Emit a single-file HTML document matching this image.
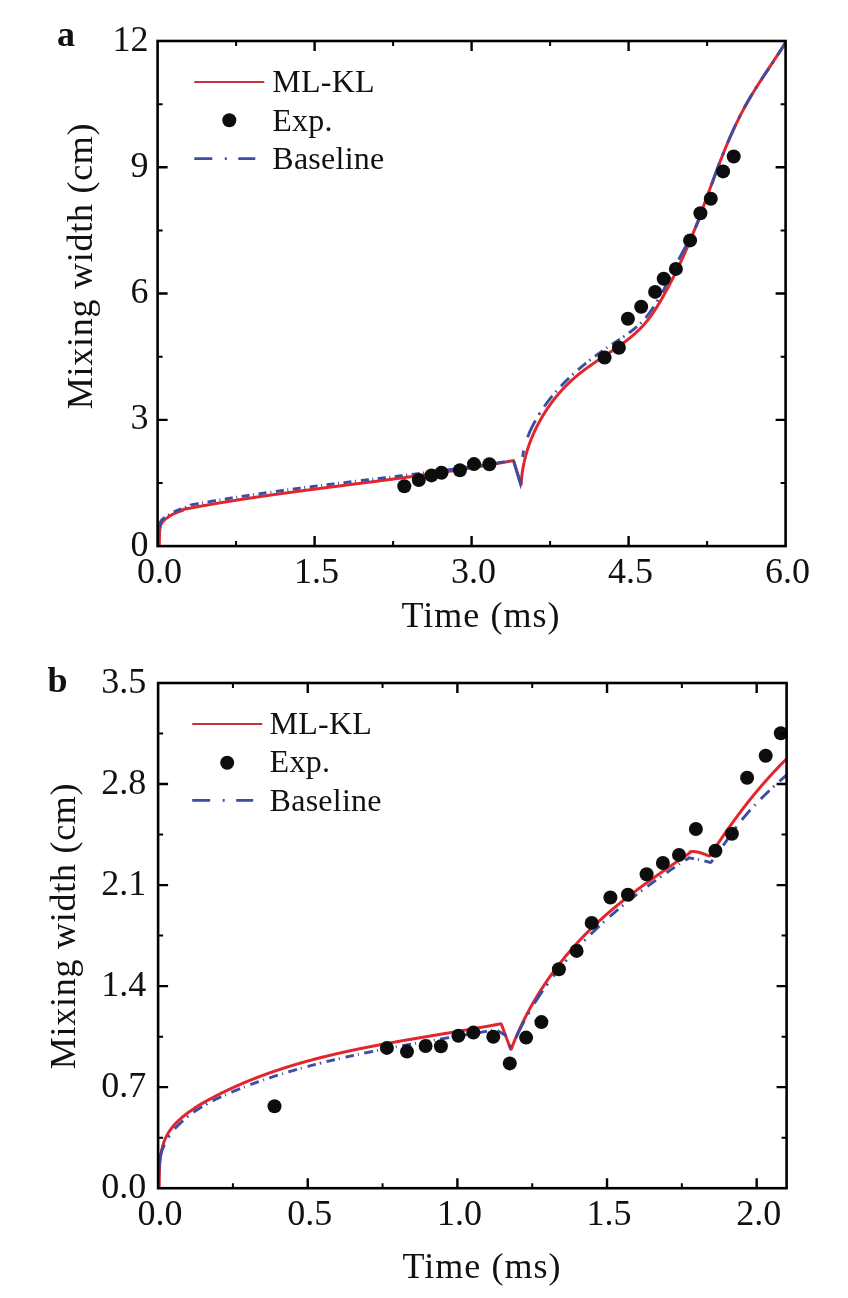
<!DOCTYPE html><html><head><meta charset="utf-8"><style>html,body{margin:0;padding:0;background:#fff;overflow:hidden}svg{display:block;will-change:transform}</style></head><body><svg width="848" height="1298" viewBox="0 0 848 1298"><rect width="848" height="1298" fill="#fff"/><clipPath id="ca"><rect x="157.60" y="41.00" width="628.00" height="505.10"/></clipPath><g clip-path="url(#ca)"><path d="M159.30,546.00 L159.30,545.60 L159.30,545.19 L159.30,544.79 L159.31,544.39 L159.31,543.98 L159.31,543.58 L159.32,543.17 L159.32,542.77 L159.33,542.37 L159.33,541.96 L159.34,541.56 L159.34,541.16 L159.35,540.75 L159.36,540.35 L159.36,539.95 L159.37,539.54 L159.38,539.14 L159.39,538.73 L159.39,538.33 L159.40,537.93 L159.41,537.52 L159.42,537.12 L159.43,536.72 L159.44,536.31 L159.45,535.91 L159.46,535.50 L159.47,535.10 L159.49,534.69 L159.50,534.29 L159.52,533.89 L159.53,533.48 L159.55,533.08 L159.57,532.67 L159.59,532.27 L159.61,531.87 L159.64,531.47 L159.66,531.07 L159.69,530.67 L159.72,530.27 L159.76,529.87 L159.81,529.47 L159.87,529.06 L159.93,528.66 L160.01,528.26 L160.09,527.86 L160.18,527.47 L160.27,527.07 L160.37,526.68 L160.47,526.29 L160.57,525.90 L160.68,525.52 L160.81,525.14 L160.95,524.75 L161.10,524.37 L161.27,524.00 L161.45,523.63 L161.63,523.27 L161.83,522.93 L162.03,522.59 L162.26,522.27 L162.50,521.95 L162.76,521.64 L163.04,521.34 L163.32,521.04 L163.61,520.75 L163.91,520.47 L164.20,520.19 L164.50,519.91 L164.79,519.64 L165.10,519.38 L165.41,519.12 L165.73,518.87 L166.06,518.63 L166.38,518.39 L166.71,518.15 L167.03,517.92 L167.36,517.68 L167.69,517.45 L168.03,517.22 L168.36,516.99 L168.70,516.76 L169.04,516.54 L169.38,516.32 L169.72,516.10 L170.06,515.88 L170.41,515.66 L170.75,515.45 L171.10,515.24 L171.45,515.04 L171.80,514.84 L172.15,514.65 L172.51,514.45 L172.86,514.27 L173.22,514.09 L173.58,513.91 L173.94,513.74 L174.30,513.57 L174.66,513.40 L175.02,513.23 L175.39,513.07 L175.76,512.90 L176.12,512.74 L176.49,512.58 L176.86,512.43 L177.24,512.27 L177.61,512.12 L177.99,511.97 L178.36,511.83 L178.74,511.68 L179.12,511.54 L179.50,511.40 L179.88,511.27 L180.27,511.13 L180.65,511.01 L181.04,510.88 L181.43,510.76 L181.82,510.64 L182.21,510.52 L182.61,510.41 L183.00,510.30 L183.32,509.40 L183.81,509.31 L184.30,509.21 L184.80,509.12 L185.29,509.02 L185.78,508.93 L186.27,508.84 L186.76,508.74 L187.26,508.65 L187.75,508.56 L188.24,508.46 L188.73,508.37 L189.23,508.28 L189.72,508.19 L190.21,508.10 L190.70,508.00 L191.20,507.91 L191.69,507.82 L192.18,507.73 L192.67,507.64 L193.16,507.55 L193.66,507.46 L194.15,507.37 L194.64,507.27 L195.14,507.18 L195.63,507.09 L196.12,507.00 L196.61,506.91 L197.11,506.83 L197.60,506.74 L198.09,506.65 L198.58,506.56 L199.08,506.47 L199.57,506.38 L200.06,506.29 L200.56,506.20 L201.05,506.11 L201.54,506.03 L202.04,505.94 L202.53,505.85 L203.02,505.76 L203.51,505.68 L204.01,505.59 L204.50,505.50 L204.99,505.41 L205.49,505.33 L205.98,505.24 L206.47,505.15 L206.97,505.07 L207.46,504.98 L207.95,504.90 L208.45,504.81 L208.94,504.72 L209.43,504.64 L209.93,504.55 L210.42,504.47 L210.91,504.38 L211.41,504.30 L211.90,504.21 L212.40,504.13 L212.89,504.04 L213.38,503.96 L213.88,503.88 L214.37,503.79 L214.86,503.71 L215.36,503.62 L215.85,503.54 L216.35,503.46 L216.84,503.37 L217.33,503.29 L217.83,503.21 L218.32,503.12 L218.82,503.04 L219.31,502.96 L219.80,502.88 L220.30,502.79 L220.79,502.71 L221.29,502.63 L221.78,502.55 L222.27,502.47 L222.77,502.39 L223.26,502.30 L223.76,502.22 L224.25,502.14 L224.75,502.06 L225.24,501.98 L225.73,501.90 L226.23,501.82 L226.72,501.74 L227.22,501.66 L227.71,501.58 L228.21,501.50 L228.70,501.42 L229.19,501.34 L229.69,501.26 L230.18,501.18 L230.68,501.10 L231.17,501.02 L231.67,500.94 L232.16,500.86 L232.66,500.78 L233.15,500.71 L233.65,500.63 L234.14,500.55 L234.64,500.47 L235.13,500.39 L235.63,500.31 L236.12,500.24 L236.61,500.16 L237.11,500.08 L237.60,500.00 L238.10,499.93 L238.59,499.85 L239.09,499.77 L239.58,499.69 L240.08,499.62 L240.57,499.54 L241.07,499.46 L241.56,499.39 L242.06,499.31 L242.55,499.23 L243.05,499.16 L243.55,499.08 L244.04,499.01 L244.54,498.93 L245.03,498.85 L245.53,498.78 L246.02,498.70 L246.52,498.63 L247.01,498.55 L247.51,498.48 L248.00,498.40 L248.50,498.33 L248.99,498.25 L249.49,498.18 L249.98,498.10 L250.48,498.03 L250.97,497.96 L251.47,497.88 L251.97,497.81 L252.46,497.73 L252.96,497.66 L253.45,497.59 L253.95,497.51 L254.44,497.44 L254.94,497.36 L255.43,497.29 L255.93,497.22 L256.43,497.14 L256.92,497.07 L257.42,497.00 L257.91,496.93 L258.41,496.85 L258.90,496.78 L259.40,496.71 L259.90,496.64 L260.39,496.56 L260.89,496.49 L261.38,496.42 L261.88,496.35 L262.38,496.27 L262.87,496.20 L263.37,496.13 L263.86,496.06 L264.36,495.99 L264.86,495.92 L265.35,495.84 L265.85,495.77 L266.34,495.70 L266.84,495.63 L267.34,495.56 L267.83,495.49 L268.33,495.42 L268.82,495.35 L269.32,495.28 L269.82,495.21 L270.31,495.14 L270.81,495.07 L271.30,495.00 L271.80,494.93 L272.30,494.86 L272.79,494.79 L273.29,494.72 L273.79,494.65 L274.28,494.58 L274.78,494.51 L275.27,494.44 L275.77,494.37 L276.27,494.30 L276.76,494.23 L277.26,494.16 L277.76,494.09 L278.25,494.02 L278.75,493.95 L279.25,493.88 L279.74,493.81 L280.24,493.74 L280.73,493.68 L281.23,493.61 L281.73,493.54 L282.22,493.47 L282.72,493.40 L283.22,493.33 L283.71,493.27 L284.21,493.20 L284.71,493.13 L285.20,493.06 L285.70,492.99 L286.20,492.93 L286.69,492.86 L287.19,492.79 L287.69,492.72 L288.18,492.65 L288.68,492.59 L289.18,492.52 L289.67,492.45 L290.17,492.38 L290.67,492.32 L291.16,492.25 L291.66,492.18 L292.16,492.12 L292.65,492.05 L293.15,491.98 L293.65,491.91 L294.14,491.85 L294.64,491.78 L295.14,491.71 L295.63,491.65 L296.13,491.58 L296.63,491.51 L297.13,491.45 L297.62,491.38 L298.12,491.32 L298.62,491.25 L299.11,491.18 L299.61,491.12 L300.11,491.05 L300.60,490.98 L301.10,490.92 L301.60,490.85 L302.09,490.79 L302.59,490.72 L303.09,490.66 L303.59,490.59 L304.08,490.52 L304.58,490.46 L305.08,490.39 L305.57,490.33 L306.07,490.26 L306.57,490.20 L307.07,490.13 L307.56,490.07 L308.06,490.00 L308.56,489.94 L309.05,489.87 L309.55,489.80 L310.05,489.74 L310.54,489.67 L311.04,489.61 L311.54,489.54 L312.04,489.48 L312.53,489.41 L313.03,489.35 L313.53,489.29 L314.02,489.22 L314.52,489.16 L315.02,489.09 L315.52,489.03 L316.01,488.96 L316.51,488.90 L317.01,488.83 L317.51,488.77 L318.00,488.70 L318.50,488.64 L319.00,488.58 L319.49,488.51 L319.99,488.45 L320.49,488.38 L320.99,488.32 L321.48,488.25 L321.98,488.19 L322.48,488.13 L322.98,488.06 L323.47,488.00 L323.97,487.93 L324.47,487.87 L324.96,487.81 L325.46,487.74 L325.96,487.68 L326.46,487.61 L326.95,487.55 L327.45,487.49 L327.95,487.42 L328.45,487.36 L328.94,487.29 L329.44,487.23 L329.94,487.17 L330.44,487.10 L330.93,487.04 L331.43,486.98 L331.93,486.91 L332.43,486.85 L332.92,486.78 L333.42,486.72 L333.92,486.66 L334.42,486.59 L334.91,486.53 L335.41,486.47 L335.91,486.40 L336.40,486.34 L336.90,486.28 L337.40,486.21 L337.90,486.15 L338.39,486.09 L338.89,486.02 L339.39,485.96 L339.89,485.90 L340.38,485.83 L340.88,485.77 L341.38,485.71 L341.88,485.64 L342.37,485.58 L342.87,485.52 L343.37,485.45 L343.87,485.39 L344.36,485.33 L344.86,485.26 L345.36,485.20 L345.86,485.14 L346.35,485.07 L346.85,485.01 L347.35,484.95 L347.85,484.88 L348.34,484.82 L348.84,484.76 L349.34,484.69 L349.84,484.63 L350.33,484.57 L350.83,484.50 L351.33,484.44 L351.83,484.38 L352.32,484.31 L352.82,484.25 L353.32,484.19 L353.82,484.12 L354.31,484.06 L354.81,484.00 L355.31,483.93 L355.81,483.87 L356.30,483.81 L356.80,483.75 L357.30,483.68 L357.80,483.62 L358.29,483.56 L358.79,483.49 L359.29,483.43 L359.79,483.37 L360.28,483.30 L360.78,483.24 L361.28,483.18 L361.78,483.11 L362.27,483.05 L362.77,482.99 L363.27,482.92 L363.77,482.86 L364.26,482.79 L364.76,482.73 L365.26,482.67 L365.76,482.60 L366.25,482.54 L366.75,482.48 L367.25,482.41 L367.75,482.35 L368.24,482.29 L368.74,482.22 L369.24,482.16 L369.74,482.10 L370.23,482.03 L370.73,481.97 L371.23,481.91 L371.73,481.84 L372.22,481.78 L372.72,481.71 L373.22,481.65 L373.72,481.59 L374.21,481.52 L374.71,481.46 L375.21,481.39 L375.71,481.33 L376.20,481.27 L376.70,481.20 L377.20,481.14 L377.69,481.08 L378.19,481.01 L378.69,480.95 L379.19,480.88 L379.68,480.82 L380.18,480.75 L380.68,480.69 L381.18,480.63 L381.67,480.56 L382.17,480.50 L382.67,480.43 L383.17,480.37 L383.66,480.30 L384.16,480.24 L384.66,480.18 L385.16,480.11 L385.65,480.05 L386.15,479.98 L386.65,479.92 L387.14,479.85 L387.64,479.79 L388.14,479.72 L388.64,479.66 L389.13,479.59 L389.63,479.53 L390.13,479.46 L390.63,479.40 L391.12,479.33 L391.62,479.27 L392.12,479.20 L392.61,479.14 L393.11,479.07 L393.61,479.01 L394.11,478.94 L394.60,478.88 L395.10,478.81 L395.60,478.75 L396.09,478.68 L396.59,478.62 L397.09,478.55 L397.59,478.48 L398.08,478.42 L398.58,478.35 L399.08,478.29 L399.57,478.22 L400.07,478.16 L400.57,478.09 L401.07,478.02 L401.56,477.96 L402.06,477.89 L402.56,477.82 L403.05,477.76 L403.55,477.69 L404.05,477.63 L404.54,477.56 L405.04,477.49 L405.54,477.43 L406.04,477.36 L406.53,477.29 L407.03,477.23 L407.53,477.16 L408.02,477.09 L408.52,477.03 L409.02,476.96 L409.51,476.89 L410.01,476.83 L410.51,476.76 L411.01,476.69 L411.50,476.62 L412.00,476.56 L412.50,476.49 L412.99,476.42 L413.49,476.35 L413.99,476.29 L414.48,476.22 L414.98,476.15 L415.48,476.08 L415.97,476.02 L416.47,475.95 L416.97,475.88 L417.46,475.81 L417.96,475.74 L418.46,475.67 L418.95,475.61 L419.45,475.54 L419.95,475.47 L420.44,475.40 L420.94,475.33 L421.44,475.26 L421.93,475.19 L422.43,475.13 L422.93,475.06 L423.42,474.99 L423.92,474.92 L424.42,474.85 L424.91,474.78 L425.41,474.71 L425.91,474.64 L426.40,474.57 L426.90,474.50 L427.40,474.43 L427.89,474.36 L428.39,474.29 L428.88,474.22 L429.38,474.15 L429.88,474.08 L430.37,474.01 L430.87,473.94 L431.37,473.87 L431.86,473.80 L432.36,473.73 L432.86,473.66 L433.35,473.59 L433.85,473.52 L434.34,473.45 L434.84,473.38 L435.34,473.31 L435.83,473.23 L436.33,473.16 L436.83,473.09 L437.32,473.02 L437.82,472.95 L438.31,472.88 L438.81,472.81 L439.31,472.73 L439.80,472.66 L440.30,472.59 L440.79,472.52 L441.29,472.45 L441.79,472.37 L442.28,472.30 L442.78,472.23 L443.27,472.16 L443.77,472.08 L444.27,472.01 L444.76,471.94 L445.26,471.86 L445.75,471.79 L446.25,471.72 L446.75,471.64 L447.24,471.57 L447.74,471.50 L448.23,471.42 L448.73,471.35 L449.22,471.28 L449.72,471.20 L450.22,471.13 L450.71,471.05 L451.21,470.98 L451.70,470.90 L452.20,470.83 L452.69,470.75 L453.19,470.68 L453.69,470.60 L454.18,470.53 L454.68,470.45 L455.17,470.38 L455.67,470.30 L456.16,470.23 L456.66,470.15 L457.15,470.08 L457.65,470.00 L458.15,469.93 L458.64,469.85 L459.14,469.77 L459.63,469.70 L460.13,469.62 L460.62,469.54 L461.12,469.47 L461.61,469.39 L462.11,469.31 L462.60,469.24 L463.10,469.16 L463.59,469.08 L464.09,469.00 L464.58,468.93 L465.08,468.85 L465.57,468.77 L466.07,468.69 L466.56,468.62 L467.06,468.54 L467.55,468.46 L468.05,468.38 L468.54,468.30 L469.04,468.22 L469.53,468.14 L470.03,468.07 L470.52,467.99 L471.02,467.91 L471.51,467.83 L472.01,467.75 L472.50,467.67 L473.00,467.59 L473.49,467.51 L473.99,467.43 L474.48,467.35 L474.98,467.27 L475.47,467.19 L475.97,467.11 L476.46,467.03 L476.96,466.95 L477.45,466.87 L477.95,466.78 L478.44,466.70 L478.93,466.62 L479.43,466.54 L479.92,466.46 L480.42,466.38 L480.91,466.30 L481.41,466.21 L481.90,466.13 L482.40,466.05 L482.89,465.97 L483.38,465.88 L483.88,465.80 L484.37,465.72 L484.87,465.63 L485.36,465.55 L485.85,465.47 L486.35,465.38 L486.84,465.30 L487.34,465.22 L487.83,465.13 L488.33,465.05 L488.82,464.96 L489.31,464.88 L489.81,464.79 L490.30,464.71 L490.80,464.63 L491.29,464.54 L491.78,464.45 L492.28,464.37 L492.77,464.28 L493.26,464.20 L493.76,464.11 L494.25,464.03 L494.75,463.94 L495.24,463.85 L495.73,463.77 L496.23,463.68 L496.72,463.59 L497.21,463.51 L497.71,463.42 L498.20,463.33 L498.69,463.24 L499.19,463.16 L499.68,463.07 L500.17,462.98 L500.67,462.89 L501.16,462.81 L501.65,462.72 L502.15,462.63 L502.64,462.54 L503.13,462.45 L503.63,462.36 L504.12,462.27 L504.61,462.18 L505.11,462.09 L505.60,462.00 L506.09,461.91 L506.59,461.82 L507.08,461.73 L507.57,461.64 L508.06,461.55 L508.56,461.46 L509.05,461.37 L509.54,461.28 L510.04,461.19 L510.53,461.10 L511.02,461.00 L511.51,460.91 L512.01,460.82 L512.50,460.73 L512.99,460.64 L513.50,460.60 L521.00,484.30 L521.20,483.83 L521.23,483.32 L521.26,482.82 L521.29,482.32 L521.33,481.82 L521.36,481.31 L521.40,480.81 L521.44,480.31 L521.48,479.81 L521.53,479.31 L521.57,478.81 L521.62,478.31 L521.67,477.81 L521.72,477.31 L521.77,476.81 L521.82,476.31 L521.88,475.81 L521.94,475.32 L522.00,474.82 L522.06,474.32 L522.12,473.82 L522.19,473.33 L522.26,472.83 L522.33,472.33 L522.40,471.84 L522.47,471.34 L522.54,470.85 L522.62,470.35 L522.70,469.86 L522.78,469.36 L522.86,468.87 L522.95,468.37 L523.03,467.88 L523.12,467.39 L523.21,466.89 L523.30,466.40 L523.39,465.91 L523.48,465.42 L523.58,464.93 L523.68,464.44 L523.78,463.94 L523.88,463.45 L523.98,462.96 L524.09,462.48 L524.19,461.99 L524.30,461.50 L524.41,461.01 L524.52,460.52 L524.64,460.03 L524.75,459.55 L524.87,459.06 L524.99,458.58 L525.11,458.09 L525.23,457.60 L525.35,457.12 L525.48,456.64 L525.60,456.15 L525.73,455.67 L525.86,455.19 L525.99,454.70 L526.13,454.22 L526.26,453.74 L526.40,453.26 L526.54,452.78 L526.68,452.30 L526.82,451.82 L526.96,451.34 L527.11,450.86 L527.25,450.38 L527.40,449.90 L527.55,449.43 L527.70,448.95 L527.86,448.47 L528.01,448.00 L528.17,447.52 L528.33,447.05 L528.48,446.57 L528.65,446.10 L528.81,445.63 L528.97,445.15 L529.14,444.68 L529.31,444.21 L529.47,443.74 L529.65,443.27 L529.82,442.80 L529.99,442.33 L530.17,441.86 L530.34,441.39 L530.52,440.92 L530.70,440.46 L530.88,439.99 L531.06,439.53 L531.25,439.06 L531.43,438.60 L531.62,438.13 L531.81,437.67 L532.00,437.20 L532.19,436.74 L532.39,436.28 L532.58,435.82 L532.78,435.36 L532.97,434.90 L533.17,434.44 L533.37,433.98 L533.58,433.52 L533.78,433.06 L533.99,432.61 L534.19,432.15 L534.40,431.70 L534.61,431.24 L534.82,430.79 L535.03,430.33 L535.25,429.88 L535.46,429.43 L535.68,428.98 L535.90,428.53 L536.12,428.08 L536.34,427.63 L536.56,427.18 L536.78,426.73 L537.01,426.28 L537.23,425.83 L537.46,425.39 L537.69,424.94 L537.92,424.50 L538.15,424.05 L538.39,423.61 L538.62,423.17 L538.86,422.73 L539.10,422.29 L539.33,421.84 L539.57,421.41 L539.82,420.97 L540.06,420.53 L540.30,420.09 L540.55,419.65 L540.80,419.22 L541.04,418.78 L541.29,418.35 L541.54,417.91 L541.80,417.48 L542.05,417.05 L542.30,416.62 L542.56,416.19 L542.82,415.76 L543.08,415.33 L543.34,414.90 L543.60,414.47 L543.86,414.05 L544.13,413.62 L544.39,413.20 L544.66,412.77 L544.92,412.35 L545.19,411.93 L545.46,411.50 L545.74,411.08 L546.01,410.66 L546.28,410.24 L546.56,409.83 L546.84,409.41 L547.11,408.99 L547.39,408.58 L547.67,408.16 L547.96,407.75 L548.24,407.33 L548.52,406.92 L548.81,406.51 L549.10,406.10 L549.39,405.69 L549.68,405.28 L549.97,404.87 L550.26,404.47 L550.55,404.06 L550.85,403.66 L551.14,403.25 L551.44,402.85 L551.74,402.45 L552.04,402.05 L552.34,401.64 L552.64,401.25 L552.94,400.85 L553.25,400.45 L553.55,400.05 L553.86,399.66 L554.17,399.26 L554.48,398.87 L554.79,398.48 L555.10,398.08 L555.42,397.69 L555.73,397.30 L556.05,396.92 L556.36,396.53 L556.68,396.14 L557.00,395.76 L557.32,395.37 L557.64,394.99 L557.96,394.60 L558.29,394.22 L558.61,393.84 L558.94,393.46 L559.27,393.08 L559.60,392.71 L559.93,392.33 L560.26,391.96 L560.59,391.58 L560.92,391.21 L561.26,390.84 L561.59,390.46 L561.93,390.09 L562.27,389.73 L562.61,389.36 L562.95,388.99 L563.29,388.63 L563.63,388.26 L563.98,387.90 L564.32,387.54 L564.67,387.17 L565.02,386.81 L565.37,386.46 L565.72,386.10 L566.07,385.74 L566.42,385.39 L566.77,385.03 L567.13,384.68 L567.48,384.33 L567.84,383.97 L568.20,383.62 L568.56,383.28 L568.92,382.93 L569.28,382.58 L569.64,382.24 L570.00,381.89 L570.37,381.55 L570.73,381.21 L571.10,380.87 L571.47,380.53 L571.84,380.19 L572.21,379.85 L572.58,379.52 L572.95,379.18 L573.33,378.85 L573.70,378.52 L574.08,378.19 L574.45,377.86 L574.83,377.53 L575.21,377.20 L575.59,376.88 L575.97,376.55 L576.35,376.23 L576.74,375.91 L577.12,375.59 L577.51,375.27 L577.89,374.95 L578.28,374.63 L578.67,374.32 L579.06,374.00 L579.45,373.69 L579.84,373.38 L580.23,373.06 L580.63,372.75 L581.02,372.45 L581.42,372.14 L581.81,371.83 L582.21,371.52 L582.61,371.22 L583.01,370.91 L583.40,370.61 L583.80,370.31 L584.21,370.01 L584.61,369.71 L585.01,369.41 L585.41,369.11 L585.82,368.81 L586.22,368.51 L586.63,368.22 L587.03,367.92 L587.44,367.63 L587.85,367.33 L588.25,367.04 L588.66,366.75 L589.07,366.46 L589.48,366.17 L589.89,365.88 L590.30,365.59 L590.71,365.30 L591.13,365.01 L591.54,364.72 L591.95,364.43 L592.36,364.15 L592.78,363.86 L593.19,363.57 L593.61,363.29 L594.02,363.00 L594.44,362.72 L594.85,362.43 L595.27,362.15 L595.68,361.87 L596.10,361.59 L596.52,361.30 L596.93,361.02 L597.35,360.74 L597.77,360.46 L598.19,360.18 L598.61,359.90 L599.02,359.62 L599.44,359.34 L599.86,359.06 L600.28,358.78 L600.70,358.50 L601.12,358.22 L601.54,357.94 L601.96,357.66 L602.37,357.38 L602.79,357.10 L603.21,356.82 L603.63,356.54 L604.05,356.26 L604.47,355.98 L604.89,355.70 L605.31,355.43 L605.73,355.15 L606.15,354.87 L606.57,354.59 L606.99,354.31 L607.41,354.03 L607.82,353.75 L608.24,353.47 L608.66,353.19 L609.08,352.91 L609.50,352.63 L609.92,352.35 L610.33,352.07 L610.75,351.79 L611.17,351.51 L611.58,351.23 L612.00,350.95 L612.42,350.66 L612.83,350.38 L613.25,350.10 L613.66,349.82 L614.08,349.53 L614.49,349.25 L614.90,348.96 L615.32,348.68 L615.73,348.39 L616.14,348.11 L616.55,347.82 L616.97,347.54 L617.38,347.25 L617.79,346.96 L618.20,346.67 L618.61,346.38 L619.01,346.10 L619.42,345.81 L619.83,345.51 L620.23,345.22 L620.64,344.93 L621.05,344.64 L621.45,344.35 L621.85,344.05 L622.26,343.76 L622.66,343.46 L623.06,343.16 L623.46,342.87 L623.86,342.57 L624.26,342.27 L624.66,341.97 L625.05,341.67 L625.45,341.37 L625.85,341.07 L626.24,340.77 L626.63,340.46 L627.03,340.16 L627.42,339.85 L627.81,339.55 L628.20,339.24 L628.59,338.93 L628.97,338.62 L629.36,338.31 L629.75,338.00 L630.13,337.68 L630.51,337.37 L630.90,337.06 L631.28,336.74 L631.66,336.42 L632.04,336.10 L632.41,335.78 L632.79,335.46 L633.16,335.14 L633.54,334.82 L633.91,334.50 L634.28,334.17 L634.65,333.84 L635.02,333.52 L635.39,333.19 L635.75,332.86 L636.12,332.52 L636.48,332.19 L636.84,331.86 L637.20,331.52 L637.56,331.18 L637.92,330.84 L638.27,330.50 L638.63,330.16 L638.98,329.82 L639.33,329.47 L639.68,329.13 L640.03,328.78 L640.37,328.43 L640.72,328.08 L641.06,327.73 L641.40,327.37 L641.74,327.02 L642.08,326.66 L642.42,326.30 L642.75,325.94 L643.08,325.58 L643.42,325.22 L643.74,324.85 L644.07,324.49 L644.40,324.12 L644.72,323.75 L645.04,323.37 L645.37,323.00 L645.68,322.62 L646.00,322.25 L646.32,321.87 L646.63,321.49 L646.94,321.11 L647.25,320.72 L647.56,320.34 L647.87,319.95 L648.17,319.56 L648.47,319.17 L648.78,318.78 L649.08,318.39 L649.38,317.99 L649.67,317.60 L649.97,317.20 L650.26,316.80 L650.56,316.40 L650.85,316.00 L651.14,315.60 L651.43,315.19 L651.71,314.79 L652.00,314.38 L652.28,313.97 L652.57,313.56 L652.85,313.16 L653.13,312.74 L653.41,312.33 L653.69,311.92 L653.96,311.50 L654.24,311.09 L654.51,310.67 L654.79,310.26 L655.06,309.84 L655.33,309.42 L655.60,309.00 L655.87,308.58 L656.14,308.16 L656.40,307.73 L656.67,307.31 L656.93,306.89 L657.20,306.46 L657.46,306.03 L657.72,305.61 L657.98,305.18 L658.24,304.75 L658.50,304.32 L658.76,303.90 L659.02,303.47 L659.27,303.03 L659.53,302.60 L659.79,302.17 L660.04,301.74 L660.29,301.31 L660.55,300.87 L660.80,300.44 L661.05,300.01 L661.30,299.57 L661.55,299.14 L661.80,298.70 L662.05,298.27 L662.30,297.83 L662.55,297.39 L662.80,296.96 L663.05,296.52 L663.29,296.08 L663.54,295.65 L663.78,295.21 L664.03,294.77 L664.27,294.33 L664.52,293.90 L664.76,293.46 L665.00,293.02 L665.25,292.58 L665.49,292.14 L665.73,291.70 L665.97,291.26 L666.21,290.82 L666.45,290.38 L666.69,289.94 L666.93,289.50 L667.17,289.06 L667.41,288.62 L667.65,288.17 L667.88,287.73 L668.12,287.29 L668.36,286.85 L668.59,286.40 L668.83,285.96 L669.06,285.52 L669.30,285.07 L669.53,284.63 L669.76,284.19 L670.00,283.74 L670.23,283.30 L670.46,282.85 L670.69,282.41 L670.92,281.96 L671.15,281.52 L671.38,281.07 L671.61,280.63 L671.84,280.18 L672.07,279.73 L672.30,279.29 L672.53,278.84 L672.75,278.39 L672.98,277.95 L673.21,277.50 L673.43,277.05 L673.66,276.60 L673.88,276.15 L674.11,275.71 L674.33,275.26 L674.56,274.81 L674.78,274.36 L675.00,273.91 L675.22,273.46 L675.44,273.01 L675.67,272.56 L675.89,272.11 L676.11,271.66 L676.33,271.21 L676.55,270.76 L676.77,270.31 L676.98,269.86 L677.20,269.40 L677.42,268.95 L677.64,268.50 L677.86,268.05 L678.07,267.60 L678.29,267.14 L678.50,266.69 L678.72,266.24 L678.93,265.78 L679.15,265.33 L679.36,264.88 L679.58,264.42 L679.79,263.97 L680.00,263.52 L680.21,263.06 L680.43,262.61 L680.64,262.15 L680.85,261.70 L681.06,261.24 L681.27,260.79 L681.48,260.33 L681.69,259.87 L681.90,259.42 L682.11,258.96 L682.31,258.51 L682.52,258.05 L682.73,257.59 L682.94,257.13 L683.14,256.68 L683.35,256.22 L683.55,255.76 L683.76,255.31 L683.97,254.85 L684.17,254.39 L684.37,253.93 L684.58,253.47 L684.78,253.01 L684.98,252.55 L685.19,252.10 L685.39,251.64 L685.59,251.18 L685.79,250.72 L685.99,250.26 L686.19,249.80 L686.40,249.34 L686.60,248.88 L686.79,248.42 L686.99,247.96 L687.19,247.50 L687.39,247.04 L687.59,246.57 L687.79,246.11 L687.98,245.65 L688.18,245.19 L688.38,244.73 L688.58,244.27 L688.77,243.80 L688.97,243.34 L689.16,242.88 L689.36,242.42 L689.55,241.95 L689.75,241.49 L689.94,241.03 L690.13,240.57 L690.33,240.10 L690.52,239.64 L690.71,239.18 L690.90,238.71 L691.10,238.25 L691.29,237.78 L691.48,237.32 L691.67,236.86 L691.86,236.39 L692.05,235.93 L692.24,235.46 L692.43,235.00 L692.62,234.53 L692.81,234.07 L692.99,233.60 L693.18,233.14 L693.37,232.67 L693.56,232.20 L693.74,231.74 L693.93,231.27 L694.12,230.81 L694.30,230.34 L694.49,229.87 L694.67,229.41 L694.86,228.94 L695.04,228.47 L695.23,228.01 L695.41,227.54 L695.60,227.07 L695.78,226.61 L695.96,226.14 L696.15,225.67 L696.33,225.20 L696.51,224.74 L696.69,224.27 L696.88,223.80 L697.06,223.33 L697.24,222.86 L697.42,222.40 L697.60,221.93 L697.78,221.46 L697.96,220.99 L698.14,220.52 L698.32,220.05 L698.50,219.58 L698.68,219.11 L698.86,218.65 L699.04,218.18 L699.22,217.71 L699.40,217.24 L699.57,216.77 L699.75,216.30 L699.93,215.83 L700.11,215.36 L700.28,214.89 L700.46,214.42 L700.64,213.95 L700.81,213.48 L700.99,213.01 L701.17,212.54 L701.34,212.07 L701.52,211.60 L701.70,211.13 L701.87,210.66 L702.05,210.19 L702.22,209.72 L702.40,209.25 L702.57,208.78 L702.75,208.31 L702.92,207.84 L703.10,207.37 L703.27,206.89 L703.45,206.42 L703.62,205.95 L703.79,205.48 L703.97,205.01 L704.14,204.54 L704.32,204.07 L704.49,203.60 L704.66,203.13 L704.84,202.66 L705.01,202.19 L705.18,201.71 L705.36,201.24 L705.53,200.77 L705.70,200.30 L705.88,199.83 L706.05,199.36 L706.22,198.89 L706.40,198.42 L706.57,197.94 L706.74,197.47 L706.91,197.00 L707.09,196.53 L707.26,196.06 L707.43,195.59 L707.60,195.12 L707.78,194.65 L707.95,194.17 L708.12,193.70 L708.29,193.23 L708.47,192.76 L708.64,192.29 L708.81,191.82 L708.98,191.35 L709.16,190.88 L709.33,190.40 L709.50,189.93 L709.67,189.46 L709.85,188.99 L710.02,188.52 L710.19,188.05 L710.36,187.58 L710.54,187.11 L710.71,186.64 L710.88,186.16 L711.05,185.69 L711.23,185.22 L711.40,184.75 L711.57,184.28 L711.74,183.81 L711.92,183.34 L712.09,182.87 L712.26,182.40 L712.44,181.93 L712.61,181.46 L712.78,180.99 L712.96,180.52 L713.13,180.04 L713.30,179.57 L713.48,179.10 L713.65,178.63 L713.83,178.16 L714.00,177.69 L714.17,177.22 L714.35,176.75 L714.52,176.28 L714.70,175.81 L714.87,175.34 L715.05,174.87 L715.22,174.41 L715.40,173.94 L715.57,173.47 L715.75,173.00 L715.92,172.53 L716.10,172.06 L716.28,171.59 L716.45,171.12 L716.63,170.65 L716.81,170.18 L716.98,169.71 L717.16,169.25 L717.34,168.78 L717.51,168.31 L717.69,167.84 L717.87,167.37 L718.05,166.90 L718.22,166.44 L718.40,165.97 L718.58,165.50 L718.76,165.03 L718.94,164.56 L719.12,164.10 L719.30,163.63 L719.48,163.16 L719.66,162.70 L719.84,162.23 L720.02,161.76 L720.20,161.30 L720.38,160.83 L720.56,160.36 L720.74,159.90 L720.92,159.43 L721.11,158.96 L721.29,158.50 L721.47,158.03 L721.65,157.57 L721.84,157.10 L722.02,156.64 L722.20,156.17 L722.39,155.71 L722.57,155.24 L722.76,154.78 L722.94,154.31 L723.13,153.85 L723.31,153.38 L723.50,152.92 L723.69,152.45 L723.87,151.99 L724.06,151.53 L724.25,151.06 L724.43,150.60 L724.62,150.14 L724.81,149.67 L725.00,149.21 L725.19,148.75 L725.38,148.29 L725.57,147.82 L725.76,147.36 L725.95,146.90 L726.14,146.44 L726.33,145.98 L726.52,145.52 L726.72,145.06 L726.91,144.59 L727.10,144.13 L727.30,143.67 L727.49,143.21 L727.68,142.75 L727.88,142.29 L728.07,141.83 L728.27,141.37 L728.46,140.91 L728.66,140.45 L728.86,140.00 L729.05,139.54 L729.25,139.08 L729.45,138.62 L729.65,138.16 L729.85,137.70 L730.05,137.25 L730.25,136.79 L730.45,136.33 L730.65,135.88 L730.85,135.42 L731.05,134.96 L731.26,134.51 L731.46,134.05 L731.66,133.59 L731.87,133.14 L732.07,132.68 L732.28,132.23 L732.48,131.77 L732.69,131.32 L732.89,130.86 L733.10,130.41 L733.31,129.96 L733.52,129.50 L733.72,129.05 L733.93,128.60 L734.14,128.14 L734.35,127.69 L734.56,127.24 L734.78,126.79 L734.99,126.34 L735.20,125.88 L735.41,125.43 L735.63,124.98 L735.84,124.53 L736.06,124.08 L736.27,123.63 L736.49,123.18 L736.70,122.73 L736.92,122.28 L737.14,121.83 L737.36,121.38 L737.58,120.94 L737.80,120.49 L738.02,120.04 L738.24,119.59 L738.46,119.14 L738.68,118.70 L738.90,118.25 L739.13,117.80 L739.35,117.36 L739.58,116.91 L739.80,116.47 L740.03,116.02 L740.25,115.58 L740.48,115.13 L740.71,114.69 L740.94,114.24 L741.17,113.80 L741.40,113.36 L741.63,112.91 L741.86,112.47 L742.09,112.03 L742.32,111.59 L742.56,111.15 L742.79,110.70 L743.03,110.26 L743.26,109.82 L743.50,109.38 L743.73,108.94 L743.97,108.50 L744.21,108.06 L744.45,107.62 L744.69,107.18 L744.93,106.75 L745.17,106.31 L745.41,105.87 L745.66,105.43 L745.90,105.00 L746.14,104.56 L746.39,104.12 L746.64,103.69 L746.88,103.25 L747.13,102.82 L747.38,102.38 L747.62,101.95 L747.87,101.51 L748.12,101.08 L748.37,100.64 L748.63,100.21 L748.88,99.78 L749.13,99.34 L749.38,98.91 L749.64,98.48 L749.89,98.05 L750.14,97.62 L750.40,97.18 L750.66,96.75 L750.91,96.32 L751.17,95.89 L751.43,95.46 L751.69,95.03 L751.94,94.60 L752.20,94.17 L752.46,93.74 L752.72,93.31 L752.98,92.88 L753.25,92.46 L753.51,92.03 L753.77,91.60 L754.03,91.17 L754.30,90.74 L754.56,90.32 L754.82,89.89 L755.09,89.46 L755.35,89.04 L755.62,88.61 L755.88,88.18 L756.15,87.76 L756.42,87.33 L756.68,86.91 L756.95,86.48 L757.22,86.06 L757.49,85.63 L757.76,85.21 L758.02,84.78 L758.29,84.36 L758.56,83.93 L758.83,83.51 L759.10,83.09 L759.37,82.66 L759.65,82.24 L759.92,81.82 L760.19,81.39 L760.46,80.97 L760.73,80.55 L761.00,80.13 L761.28,79.70 L761.55,79.28 L761.82,78.86 L762.10,78.44 L762.37,78.02 L762.64,77.60 L762.92,77.17 L763.19,76.75 L763.47,76.33 L763.74,75.91 L764.02,75.49 L764.29,75.07 L764.57,74.65 L764.84,74.23 L765.12,73.81 L765.39,73.39 L765.67,72.97 L765.95,72.55 L766.22,72.13 L766.50,71.71 L766.77,71.29 L767.05,70.87 L767.33,70.45 L767.60,70.03 L767.88,69.61 L768.16,69.19 L768.43,68.77 L768.71,68.35 L768.99,67.94 L769.27,67.52 L769.54,67.10 L769.82,66.68 L770.10,66.26 L770.37,65.84 L770.65,65.42 L770.93,65.01 L771.20,64.59 L771.48,64.17 L771.76,63.75 L772.04,63.33 L772.31,62.92 L772.59,62.50 L772.87,62.08 L773.14,61.66 L773.42,61.24 L773.70,60.83 L773.97,60.41 L774.25,59.99 L774.53,59.57 L774.80,59.15 L775.08,58.74 L775.35,58.32 L775.63,57.90 L775.90,57.48 L776.18,57.07 L776.46,56.65 L776.73,56.23 L777.01,55.81 L777.28,55.39 L777.55,54.98 L777.83,54.56 L778.10,54.14 L778.38,53.72 L778.65,53.31 L778.92,52.89 L779.20,52.47 L779.47,52.05 L779.74,51.63 L780.02,51.22 L780.29,50.80 L780.56,50.38 L780.83,49.96 L781.10,49.54 L781.37,49.13 L781.64,48.71 L781.92,48.29 L782.19,47.87 L782.45,47.45 L782.72,47.03 L782.99,46.61 L783.26,46.20 L783.53,45.78 L783.80,45.36 L784.07,44.94 L784.33,44.52 L784.60,44.10 L784.87,43.68 L785.13,43.26 L785.40,42.84 L785.66,42.43 L785.93,42.01 L786.19,41.59 L786.46,41.17 L786.72,40.75 L786.98,40.33 L787.00,39.70" fill="none" stroke="#e3262d" stroke-width="3.0" stroke-linejoin="round" stroke-linecap="round"/><path d="M158.30,546.00 L158.30,545.60 L158.30,545.19 L158.30,544.79 L158.31,544.39 L158.31,543.98 L158.32,543.58 L158.32,543.18 L158.33,542.78 L158.33,542.37 L158.34,541.97 L158.35,541.57 L158.36,541.16 L158.37,540.76 L158.37,540.36 L158.38,539.96 L158.39,539.55 L158.41,539.15 L158.42,538.75 L158.43,538.35 L158.44,537.94 L158.45,537.54 L158.46,537.14 L158.48,536.74 L158.49,536.34 L158.50,535.93 L158.52,535.53 L158.53,535.13 L158.55,534.72 L158.57,534.32 L158.59,533.92 L158.61,533.51 L158.63,533.11 L158.66,532.70 L158.68,532.30 L158.71,531.90 L158.74,531.49 L158.77,531.09 L158.81,530.69 L158.84,530.28 L158.88,529.88 L158.92,529.48 L158.96,529.08 L159.00,528.68 L159.04,528.28 L159.09,527.89 L159.14,527.49 L159.19,527.10 L159.24,526.70 L159.30,526.30 L159.38,525.90 L159.46,525.50 L159.55,525.09 L159.65,524.68 L159.75,524.28 L159.87,523.88 L159.99,523.48 L160.12,523.09 L160.26,522.70 L160.40,522.33 L160.55,521.96 L160.70,521.61 L160.87,521.26 L161.03,520.94 L161.23,520.62 L161.46,520.31 L161.72,520.00 L162.00,519.71 L162.30,519.42 L162.61,519.14 L162.93,518.87 L163.26,518.60 L163.58,518.34 L163.90,518.08 L164.21,517.84 L164.52,517.59 L164.85,517.36 M168.26,515.20 L168.60,514.99 L168.95,514.77 L169.29,514.56 M173.82,511.93 L174.18,511.75 L174.54,511.58 L174.91,511.41 L175.27,511.24 L175.64,511.08 L176.00,510.92 L176.37,510.76 L176.74,510.61 L177.12,510.46 L177.49,510.31 L177.87,510.16 L178.24,510.01 L178.62,509.87 L179.00,509.73 L179.38,509.58 L179.76,509.44 L180.13,509.30 L180.51,509.16 L180.89,509.02 L181.27,508.89 L181.65,508.75 M185.06,507.51 L185.44,507.38 L185.82,507.24 L186.20,507.11 M190.59,505.35 L190.77,505.01 L191.26,504.92 L191.76,504.82 L192.25,504.73 L192.74,504.64 L193.24,504.55 L193.73,504.46 L194.22,504.37 L194.72,504.28 L195.21,504.19 L195.70,504.10 L196.19,504.01 L196.69,503.92 L197.18,503.83 L197.67,503.74 L198.17,503.65 L198.66,503.56 M202.11,502.94 L202.61,502.86 L203.10,502.77 M207.54,501.99 L208.04,501.90 L208.53,501.81 L209.02,501.73 L209.52,501.64 L210.01,501.56 L210.51,501.47 L211.00,501.39 L211.49,501.30 L211.99,501.22 L212.48,501.13 L212.97,501.05 L213.47,500.96 L213.96,500.88 L214.46,500.80 L214.95,500.71 L215.45,500.63 L215.94,500.55 M219.40,499.96 L219.89,499.88 L220.39,499.80 M224.84,499.07 L225.33,498.99 L225.83,498.91 L226.32,498.82 L226.81,498.74 L227.31,498.66 L227.80,498.58 L228.30,498.50 L228.79,498.42 L229.29,498.34 L229.78,498.26 L230.28,498.19 L230.77,498.11 L231.27,498.03 L231.76,497.95 L232.26,497.87 L232.75,497.79 M236.22,497.24 L236.71,497.17 L237.21,497.09 M241.66,496.40 L242.16,496.32 L242.65,496.24 L243.15,496.17 L243.64,496.09 L244.14,496.02 L244.63,495.94 L245.13,495.86 L245.62,495.79 L246.12,495.71 L246.62,495.64 L247.11,495.56 L247.61,495.49 L248.10,495.41 L248.60,495.34 L249.09,495.26 L249.59,495.19 M253.06,494.67 L253.55,494.60 L254.05,494.53 M258.51,493.87 L259.01,493.80 L259.50,493.73 L260.00,493.65 L260.49,493.58 L260.99,493.51 L261.49,493.44 L261.98,493.37 L262.48,493.29 L262.97,493.22 L263.47,493.15 L263.97,493.08 L264.46,493.01 L264.96,492.94 L265.45,492.87 L265.95,492.80 L266.45,492.73 M270.42,492.16 L270.91,492.09 L271.41,492.02 M275.88,491.40 L276.37,491.33 L276.87,491.26 L277.36,491.19 L277.86,491.13 L278.36,491.06 L278.85,490.99 L279.35,490.92 L279.85,490.85 L280.34,490.78 L280.84,490.72 L281.34,490.65 L281.83,490.58 L282.33,490.51 L282.83,490.45 L283.32,490.38 L283.82,490.31 M287.30,489.84 L287.79,489.77 L288.29,489.71 M292.76,489.11 L293.26,489.04 L293.75,488.98 L294.25,488.91 L294.75,488.85 L295.25,488.78 L295.74,488.72 L296.24,488.65 L296.74,488.58 L297.23,488.52 L297.73,488.45 L298.23,488.39 L298.72,488.32 L299.22,488.26 L299.72,488.19 L300.22,488.13 L300.71,488.06 M304.19,487.61 L304.69,487.55 L305.19,487.48 M309.66,486.91 L310.16,486.84 L310.65,486.78 L311.15,486.72 L311.65,486.65 L312.15,486.59 L312.64,486.53 L313.14,486.46 L313.64,486.40 L314.14,486.34 L314.63,486.27 L315.13,486.21 L315.63,486.15 L316.13,486.09 L316.62,486.02 L317.12,485.96 L317.62,485.90 M321.10,485.46 L321.60,485.40 L322.09,485.33 M326.57,484.78 L327.07,484.71 L327.57,484.65 L328.06,484.59 L328.56,484.53 L329.06,484.47 L329.56,484.40 L330.05,484.34 L330.55,484.28 L331.05,484.22 L331.55,484.16 L332.04,484.10 L332.54,484.04 L333.04,483.97 L333.54,483.91 L334.03,483.85 L334.53,483.79 M338.02,483.36 L338.51,483.30 L339.01,483.24 M343.49,482.69 L343.99,482.63 L344.48,482.57 L344.98,482.51 L345.48,482.45 L345.98,482.39 L346.48,482.33 L346.97,482.27 L347.47,482.21 L347.97,482.15 L348.47,482.09 L348.96,482.03 L349.46,481.97 L349.96,481.91 L350.46,481.85 L350.96,481.79 L351.45,481.73 M354.94,481.31 L355.44,481.25 L355.93,481.18 M360.91,480.58 L361.41,480.52 L361.91,480.46 L362.40,480.40 L362.90,480.34 L363.40,480.28 L363.90,480.23 L364.40,480.17 L364.89,480.11 L365.39,480.05 L365.89,479.99 L366.39,479.93 L366.88,479.87 L367.38,479.81 L367.88,479.75 L368.38,479.69 L368.88,479.63 M372.36,479.21 L372.86,479.15 L373.36,479.09 M377.84,478.55 L378.33,478.49 L378.83,478.43 L379.33,478.37 L379.83,478.31 L380.33,478.25 L380.82,478.19 L381.32,478.13 L381.82,478.07 L382.32,478.01 L382.82,477.95 L383.31,477.89 L383.81,477.83 L384.31,477.77 L384.81,477.71 L385.30,477.65 L385.80,477.59 M389.29,477.17 L389.78,477.11 L390.28,477.05 M394.76,476.51 L395.26,476.45 L395.76,476.39 L396.26,476.33 L396.75,476.27 L397.25,476.21 L397.75,476.15 L398.25,476.09 L398.74,476.03 L399.24,475.97 L399.74,475.90 L400.24,475.84 L400.74,475.78 L401.23,475.72 L401.73,475.66 L402.23,475.60 L402.73,475.54 M406.21,475.12 L406.71,475.05 L407.21,474.99 M411.68,474.44 L412.18,474.38 L412.68,474.32 L413.18,474.26 L413.67,474.20 L414.17,474.14 L414.67,474.08 L415.17,474.01 L415.66,473.95 L416.16,473.89 L416.66,473.83 L417.16,473.77 L417.66,473.71 L418.15,473.64 L418.65,473.58 L419.15,473.52 L419.65,473.46 M423.13,473.02 L423.63,472.96 L424.12,472.90 M428.60,472.34 L429.10,472.27 L429.59,472.21 L430.09,472.15 L430.59,472.08 L431.09,472.02 L431.58,471.96 L432.08,471.90 L432.58,471.83 L433.08,471.77 L433.57,471.71 L434.07,471.64 L434.57,471.58 L435.06,471.52 L435.56,471.45 L436.06,471.39 L436.56,471.32 M440.04,470.88 L440.53,470.81 L441.03,470.75 M445.51,470.17 L446.00,470.10 L446.50,470.04 L447.00,469.97 L447.49,469.91 L447.99,469.84 L448.49,469.78 L448.98,469.71 L449.48,469.65 L449.98,469.58 L450.48,469.52 L450.97,469.45 L451.47,469.38 L451.97,469.32 L452.46,469.25 L452.96,469.19 L453.46,469.12 M456.93,468.66 L457.43,468.59 L457.93,468.52 M462.90,467.85 L463.39,467.78 L463.89,467.72 L464.38,467.65 L464.88,467.58 L465.38,467.51 L465.87,467.45 L466.37,467.38 L466.87,467.31 L467.36,467.24 L467.86,467.17 L468.36,467.10 L468.85,467.04 L469.35,466.97 L469.85,466.90 L470.34,466.83 L470.84,466.76 M474.31,466.27 L474.81,466.20 L475.31,466.14 M479.77,465.50 L480.27,465.43 L480.76,465.36 L481.26,465.29 L481.76,465.22 L482.25,465.15 L482.75,465.08 L483.25,465.00 L483.74,464.93 L484.24,464.86 L484.73,464.79 L485.23,464.72 L485.73,464.65 L486.22,464.57 L486.72,464.50 L487.21,464.43 L487.71,464.36 M491.18,463.85 L491.68,463.77 L492.17,463.70 M496.63,463.04 L497.13,462.96 L497.62,462.89 L498.12,462.81 L498.61,462.74 L499.11,462.66 L499.61,462.59 L500.10,462.51 L500.60,462.44 L501.09,462.36 L501.59,462.28 L502.08,462.21 L502.58,462.13 L503.07,462.06 L503.57,461.98 L504.06,461.90 L504.56,461.83 M508.03,461.29 L508.52,461.21 L509.02,461.14 M513.50,460.60 L513.59,460.89 L513.67,461.18 L513.76,461.47 L513.85,461.76 L513.93,462.04 L514.02,462.33 L514.10,462.62 L514.19,462.91 L514.28,463.20 L514.36,463.49 L514.45,463.78 L514.54,464.07 L514.62,464.36 L514.71,464.64 L514.80,464.93 L514.88,465.22 L514.97,465.51 L515.06,465.80 L515.14,466.09 L515.23,466.38 L515.31,466.67 L515.40,466.96 L515.49,467.24 L515.57,467.53 L515.66,467.82 L515.75,468.11 L515.83,468.40 L515.92,468.69 L516.01,468.98 L516.09,469.27 L516.18,469.56 L516.27,469.84 L516.35,470.13 L516.44,470.42 L516.52,470.71 L516.61,471.00 L516.70,471.29 L516.78,471.58 L516.87,471.87 L516.96,472.16 L517.04,472.44 L517.13,472.73 L517.22,473.02 L517.30,473.31 L517.39,473.60 L517.48,473.89 L517.56,474.18 L517.65,474.47 L517.73,474.76 L517.82,475.04 L517.91,475.33 L517.99,475.62 L518.08,475.91 L518.17,476.20 L518.25,476.49 L518.34,476.78 L518.43,477.07 L518.51,477.36 L518.60,477.64 L518.69,477.93 L518.77,478.22 L518.86,478.51 L518.94,478.80 L519.03,479.09 L519.12,479.38 L519.20,479.67 L519.29,479.96 L519.38,480.24 L519.46,480.53 L519.55,480.82 L519.64,481.11 L519.72,481.40 L519.81,481.69 L519.90,481.98 L519.98,482.27 L520.07,482.56 L520.15,482.84 L520.24,483.13 L520.33,483.42 L520.41,483.71 L520.50,484.00 L520.62,483.52 L520.64,483.02 L520.65,482.52 L520.67,482.03 L520.69,481.53 L520.71,481.03 L520.73,480.53 L520.75,480.03 L520.77,479.53 L520.79,479.03 L520.81,478.53 L520.83,478.03 M522.60,457.02 L522.68,456.53 L522.75,456.03 L522.83,455.54 L522.91,455.04 L522.99,454.55 L523.08,454.05 L523.17,453.56 L523.26,453.07 L523.35,452.58 L523.44,452.08 L523.54,451.59 L523.63,451.10 L523.73,450.61 M527.62,437.19 L527.80,436.72 L527.98,436.25 L528.16,435.79 L528.34,435.32 L528.53,434.86 L528.71,434.39 L528.90,433.93 L529.10,433.47 L529.29,433.01 L529.49,432.54 L529.69,432.09 L529.89,431.63 L530.09,431.17 L530.30,430.71 L530.50,430.26 L530.71,429.80 L530.92,429.35 L531.14,428.89 L531.35,428.44 L531.57,427.99 L531.79,427.54 L532.01,427.09 L532.23,426.64 L532.45,426.19 L532.68,425.74 L532.90,425.30 L533.13,424.85 L533.36,424.40 L533.59,423.96 L533.82,423.52 L534.06,423.08 L534.29,422.64 L534.53,422.20 L534.77,421.76 L535.01,421.32 L535.25,420.88 L535.49,420.44 M538.77,414.85 L539.03,414.43 L539.29,414.00 L539.56,413.58 L539.82,413.16 L540.09,412.74 M544.24,406.54 L544.53,406.13 L544.82,405.73 L545.10,405.32 L545.39,404.92 L545.69,404.52 L545.98,404.11 L546.27,403.71 L546.57,403.31 L546.86,402.91 L547.16,402.51 L547.46,402.11 L547.76,401.72 L548.06,401.32 L548.36,400.93 L548.66,400.53 L548.97,400.14 L549.27,399.74 L549.58,399.35 L549.89,398.96 L550.19,398.57 L550.50,398.18 L550.82,397.79 L551.13,397.40 L551.44,397.02 L551.75,396.63 L552.07,396.24 L552.38,395.86 M555.60,392.05 L555.93,391.68 L556.26,391.30 L556.59,390.93 M560.96,386.13 L561.31,385.77 L561.65,385.41 L562.00,385.04 L562.34,384.68 L562.69,384.32 L563.04,383.96 L563.38,383.60 L563.73,383.24 L564.08,382.89 L564.44,382.53 L564.79,382.17 L565.14,381.82 L565.49,381.47 L565.85,381.11 L566.20,380.76 L566.56,380.41 L566.92,380.05 L567.28,379.70 L567.64,379.35 L568.00,379.00 L568.36,378.66 L568.72,378.31 L569.08,377.96 M572.38,374.87 L572.75,374.53 L573.12,374.19 L573.49,373.85 M578.01,369.85 L578.39,369.52 L578.77,369.19 L579.15,368.86 L579.54,368.53 L579.92,368.21 L580.31,367.88 L580.69,367.56 L581.08,367.23 L581.46,366.91 L581.85,366.59 L582.24,366.26 L582.63,365.94 L583.02,365.62 L583.41,365.30 L583.80,364.98 L584.19,364.66 L584.58,364.34 L584.97,364.02 L585.36,363.71 L585.76,363.39 L586.15,363.08 M589.32,360.57 L589.72,360.26 L590.12,359.95 L590.52,359.64 M594.95,356.29 L595.36,355.99 L595.77,355.69 L596.17,355.39 L596.58,355.09 L596.99,354.79 L597.40,354.49 L597.80,354.20 L598.21,353.90 L598.62,353.60 L599.03,353.31 L599.44,353.01 L599.85,352.72 L600.27,352.43 L600.68,352.13 L601.09,351.84 L601.50,351.55 L601.91,351.26 L602.33,350.97 L602.74,350.68 M606.48,348.09 L606.90,347.81 L607.31,347.52 M611.92,344.44 L612.34,344.16 L612.76,343.88 L613.18,343.60 L613.60,343.33 L614.02,343.05 L614.44,342.77 L614.86,342.50 L615.28,342.22 L615.70,341.95 L616.12,341.67 L616.54,341.39 L616.96,341.12 L617.38,340.84 L617.80,340.56 L618.22,340.29 L618.64,340.01 L619.05,339.73 L619.47,339.46 L619.89,339.18 M623.20,336.95 L623.62,336.67 L624.03,336.38 L624.44,336.10 M628.89,332.94 L629.29,332.65 L629.69,332.35 L630.08,332.06 L630.48,331.76 L630.87,331.47 L631.26,331.17 L631.66,330.87 L632.05,330.57 L632.43,330.26 L632.82,329.96 L633.21,329.65 L633.59,329.35 L633.97,329.04 L634.36,328.73 L634.74,328.42 L635.11,328.10 L635.49,327.79 L635.87,327.47 L636.24,327.16 L636.61,326.84 L636.98,326.51 M640.23,323.54 L640.58,323.20 L640.93,322.86 L641.27,322.51 M645.59,317.82 L645.90,317.45 L646.22,317.07 L646.53,316.69 L646.84,316.30 L647.15,315.92 L647.46,315.54 L647.76,315.15 L648.06,314.76 L648.37,314.37 L648.67,313.97 L648.96,313.58 L649.26,313.18 L649.55,312.79 L649.85,312.39 L650.14,311.99 L650.43,311.59 L650.72,311.18 L651.00,310.78 L651.29,310.37 L651.57,309.97 L651.85,309.56 L652.13,309.15 L652.41,308.74 L652.69,308.33 L652.97,307.91 L653.25,307.50 L653.52,307.09 L653.79,306.67 M656.98,301.61 L657.24,301.18 L657.49,300.75 L657.75,300.32 L658.00,299.89 M662.20,292.47 L662.44,292.03 L662.68,291.59 L662.91,291.15 L663.15,290.70 L663.39,290.26 L663.62,289.81 L663.86,289.37 L664.09,288.92 L664.33,288.47 L664.56,288.03 L664.79,287.58 L665.03,287.13 L665.26,286.68 L665.49,286.24 L665.72,285.79 L665.95,285.34 L666.18,284.89 L666.41,284.44 L666.64,283.99 L666.87,283.54 L667.09,283.09 L667.32,282.64 L667.55,282.18 L667.77,281.73 L668.00,281.28 L668.23,280.83 L668.45,280.38 L668.68,279.92 L668.90,279.47 L669.13,279.02 L669.35,278.56 L669.57,278.11 L669.80,277.66 L670.02,277.20 L670.25,276.75 M673.36,270.39 L673.58,269.94 L673.80,269.48 L674.03,269.03 L674.25,268.58 L674.47,268.12 L674.69,267.67 M678.73,259.55 L678.95,259.10 L679.18,258.65 L679.41,258.20 L679.64,257.76 L679.87,257.31 L680.10,256.86 L680.33,256.42 L680.56,255.97 L680.79,255.53 L681.02,255.08 L681.25,254.64 L681.48,254.20 L681.72,253.75 L681.95,253.31 L682.18,252.87 L682.42,252.43 L682.65,251.99 L682.89,251.55 L683.13,251.11 L683.36,250.67 L683.60,250.23 L683.84,249.80 L684.08,249.36 L684.31,248.92 L684.55,248.48 L684.79,248.05 L685.03,247.61 L685.27,247.18 L685.51,246.74 L685.75,246.31 L685.99,245.87 L686.23,245.44 L686.47,245.00 L686.71,244.57 L686.95,244.13 M690.04,238.48 L690.27,238.05 L690.50,237.61 L690.74,237.17 L690.97,236.74 L691.20,236.30 M695.38,227.89 L695.59,227.44 L695.79,226.99 L696.00,226.53 L696.20,226.08 L696.40,225.63 L696.60,225.18 L696.80,224.72 L697.00,224.26 L697.19,223.81 L697.39,223.35 L697.58,222.89 L697.77,222.44 L697.96,221.98 L698.15,221.52 L698.34,221.06 L698.53,220.60 L698.72,220.13 L698.90,219.67 L699.09,219.21 L699.27,218.75 L699.45,218.28 L699.64,217.82 L699.82,217.36 L700.00,216.89 L700.18,216.42 L700.36,215.96 L700.53,215.49 L700.71,215.02 L700.89,214.56 L701.06,214.09 L701.24,213.62 L701.41,213.15 L701.59,212.68 L701.76,212.21 L701.93,211.75 L702.10,211.28 L702.28,210.81 L702.45,210.33 L702.62,209.86 L702.79,209.39 L702.96,208.92 L703.13,208.45 L703.30,207.98 M706.31,199.47 L706.48,199.00 L706.65,198.52 L706.82,198.05 L706.98,197.58 L707.15,197.10 L707.32,196.63 L707.49,196.16 L707.65,195.68 M711.53,184.80 L711.70,184.33 L711.86,183.86 L712.03,183.38 L712.20,182.91 L712.37,182.44 L712.54,181.96 L712.72,181.49 L712.89,181.02 L713.06,180.55 L713.23,180.07 L713.40,179.60 L713.57,179.13 L713.74,178.66 L713.91,178.19 L714.08,177.71 L714.26,177.24 L714.43,176.77 L714.60,176.30 L714.77,175.83 L714.94,175.36 L715.12,174.88 L715.29,174.41 L715.46,173.94 L715.64,173.47 L715.81,173.00 L715.98,172.53 L716.16,172.06 L716.33,171.59 L716.51,171.11 L716.68,170.64 L716.86,170.17 L717.03,169.70 L717.21,169.23 L717.38,168.76 L717.56,168.29 L717.73,167.82 L717.91,167.35 L718.09,166.88 L718.26,166.41 L718.44,165.94 L718.62,165.47 L718.79,165.00 L718.97,164.53 L719.15,164.07 L719.33,163.60 L719.51,163.13 M722.59,155.18 L722.77,154.71 L722.96,154.24 L723.14,153.78 L723.33,153.31 L723.51,152.85 L723.70,152.38 M727.69,142.65 L727.88,142.19 L728.08,141.73 L728.27,141.27 L728.47,140.81 L728.67,140.35 L728.86,139.89 L729.06,139.43 L729.26,138.97 L729.45,138.51 L729.65,138.05 L729.85,137.59 L730.05,137.13 L730.25,136.67 L730.45,136.21 L730.65,135.76 L730.85,135.30 L731.06,134.84 L731.26,134.38 L731.46,133.93 L731.66,133.47 L731.87,133.01 L732.07,132.56 L732.28,132.10 L732.48,131.64 L732.69,131.19 L732.89,130.73 L733.10,130.28 L733.31,129.82 L733.52,129.37 L733.72,128.92 L733.93,128.46 L734.14,128.01 L734.35,127.55 L734.56,127.10 L734.77,126.65 L734.99,126.20 L735.20,125.74 L735.41,125.29 L735.62,124.84 L735.84,124.39 M738.89,118.10 L739.11,117.65 L739.34,117.21 L739.56,116.76 L739.78,116.31 L740.01,115.87 L740.23,115.42 M744.17,107.90 L744.41,107.47 L744.64,107.03 L744.88,106.59 L745.12,106.15 L745.36,105.71 L745.60,105.28 L745.85,104.84 L746.09,104.40 L746.33,103.97 L746.58,103.53 L746.82,103.09 L747.07,102.66 L747.31,102.23 L747.56,101.79 L747.81,101.36 L748.05,100.92 L748.30,100.49 L748.55,100.06 L748.80,99.63 L749.05,99.19 L749.31,98.76 L749.56,98.33 L749.81,97.90 L750.07,97.47 L750.32,97.04 L750.58,96.61 L750.83,96.18 L751.09,95.75 L751.35,95.32 L751.61,94.90 L751.87,94.47 L752.13,94.04 L752.39,93.61 M755.56,88.52 L755.83,88.09 L756.10,87.67 L756.37,87.25 L756.64,86.83 M761.02,80.11 L761.29,79.69 L761.57,79.27 L761.85,78.85 L762.12,78.43 L762.40,78.02 L762.68,77.60 L762.96,77.18 L763.23,76.76 L763.51,76.35 L763.79,75.93 L764.07,75.51 L764.35,75.09 L764.63,74.68 L764.91,74.26 L765.19,73.84 L765.46,73.43 L765.74,73.01 L766.02,72.59 L766.30,72.18 L766.58,71.76 L766.86,71.34 L767.14,70.93 L767.42,70.51 L767.70,70.09 L767.98,69.68 L768.26,69.26 L768.54,68.85 L768.82,68.43 L769.10,68.01 M772.17,63.43 L772.45,63.01 L772.73,62.60 L773.00,62.18 L773.28,61.76 L773.56,61.35 M777.68,55.07 L777.95,54.65 L778.23,54.23 L778.50,53.81 L778.77,53.39 L779.04,52.97 L779.31,52.55 L779.58,52.13 L779.85,51.71 L780.11,51.29 L780.38,50.87 L780.65,50.45 L780.92,50.02 L781.18,49.60 L781.45,49.18 L781.71,48.76 L781.98,48.33 L782.24,47.91 L782.50,47.48 L782.77,47.06 L783.03,46.64 L783.29,46.21 L783.55,45.79 L783.81,45.36 L784.07,44.94 L784.33,44.51 L784.58,44.08 L784.84,43.66 L785.10,43.23 L785.35,42.80 L785.61,42.37 L785.86,41.95" fill="none" stroke="#3b4ea3" stroke-width="2.9" stroke-linecap="butt"/></g><g fill="#0d0d0d"><circle cx="404.30" cy="486.20" r="7.00"/><circle cx="418.80" cy="480.10" r="7.00"/><circle cx="431.50" cy="475.40" r="7.00"/><circle cx="441.50" cy="472.70" r="7.00"/><circle cx="459.90" cy="470.30" r="7.00"/><circle cx="474.00" cy="464.10" r="7.00"/><circle cx="489.40" cy="464.20" r="7.00"/><circle cx="604.60" cy="357.60" r="7.00"/><circle cx="618.90" cy="347.80" r="7.00"/><circle cx="627.90" cy="318.80" r="7.00"/><circle cx="641.20" cy="306.70" r="7.00"/><circle cx="655.10" cy="291.90" r="7.00"/><circle cx="663.70" cy="278.70" r="7.00"/><circle cx="675.90" cy="268.90" r="7.00"/><circle cx="690.10" cy="240.40" r="7.00"/><circle cx="700.40" cy="213.30" r="7.00"/><circle cx="710.80" cy="198.80" r="7.00"/><circle cx="723.10" cy="171.40" r="7.00"/><circle cx="733.70" cy="156.50" r="7.00"/></g><path d="M314.60,546.10V536.10M314.60,41.00V51.00M471.60,546.10V536.10M471.60,41.00V51.00M628.60,546.10V536.10M628.60,41.00V51.00M157.60,419.83H167.60M785.60,419.83H775.60M157.60,293.55H167.60M785.60,293.55H775.60M157.60,167.27H167.60M785.60,167.27H775.60" stroke="#000" stroke-width="2.4" fill="none"/><path d="M236.10,546.10V541.10M236.10,41.00V46.00M393.10,546.10V541.10M393.10,41.00V46.00M550.10,546.10V541.10M550.10,41.00V46.00M707.10,546.10V541.10M707.10,41.00V46.00M157.60,482.96H162.60M785.60,482.96H780.60M157.60,356.69H162.60M785.60,356.69H780.60M157.60,230.41H162.60M785.60,230.41H780.60M157.60,104.14H162.60M785.60,104.14H780.60" stroke="#000" stroke-width="2.0" fill="none"/><rect x="157.60" y="41.00" width="628.00" height="505.10" fill="none" stroke="#000" stroke-width="2.6"/><g font-family='"Liberation Serif", serif' font-size="36" fill="#111"><text x="159.60" y="583.10" text-anchor="middle">0.0</text><text x="316.60" y="583.10" text-anchor="middle">1.5</text><text x="473.60" y="583.10" text-anchor="middle">3.0</text><text x="630.60" y="583.10" text-anchor="middle">4.5</text><text x="787.60" y="583.10" text-anchor="middle">6.0</text><text x="148.50" y="555.60" text-anchor="end">0</text><text x="148.50" y="429.33" text-anchor="end">3</text><text x="148.50" y="303.05" text-anchor="end">6</text><text x="148.50" y="176.77" text-anchor="end">9</text><text x="148.50" y="50.50" text-anchor="end">12</text></g><path d="M194.30,82.00H264.30" stroke="#c8323a" stroke-width="2.0"/><circle cx="229.30" cy="120.20" r="7" fill="#0d0d0d"/><path d="M194.30,158.60H212.30M224.80,158.60H226.80M238.30,158.60H255.30" stroke="#3b4ea3" stroke-width="2.6"/><g font-family='"Liberation Serif", serif' font-size="32" letter-spacing="0.25" fill="#111"><text x="272.30" y="91.60">ML-KL</text><text x="272.30" y="130.60">Exp.</text><text x="272.30" y="169.00">Baseline</text></g><g font-family='"Liberation Serif", serif' font-size="36" fill="#111"><text x="481" y="627.2" text-anchor="middle" letter-spacing="1.05">Time (ms)</text><text transform="translate(92.3,266) rotate(-90)" text-anchor="middle" letter-spacing="0.75">Mixing width (cm)</text><text x="482" y="1278.4" text-anchor="middle" letter-spacing="1.05">Time (ms)</text><text transform="translate(75.4,926) rotate(-90)" text-anchor="middle" letter-spacing="0.75">Mixing width (cm)</text><text x="57" y="45.5" font-weight="bold">a</text><text x="47.5" y="691.6" font-weight="bold">b</text></g><clipPath id="cb"><rect x="158.10" y="683.00" width="628.50" height="505.20"/></clipPath><g clip-path="url(#cb)"><path d="M159.20,1188.00 L159.20,1187.60 L159.20,1187.20 L159.20,1186.79 L159.20,1186.39 L159.21,1185.99 L159.21,1185.59 L159.21,1185.19 L159.22,1184.78 L159.22,1184.38 L159.22,1183.98 L159.23,1183.58 L159.23,1183.18 L159.24,1182.77 L159.24,1182.37 L159.24,1181.97 L159.25,1181.57 L159.26,1181.17 L159.26,1180.77 L159.27,1180.36 L159.27,1179.96 L159.28,1179.56 L159.28,1179.16 L159.29,1178.76 L159.29,1178.35 L159.30,1177.95 L159.31,1177.55 L159.31,1177.15 L159.32,1176.75 L159.33,1176.34 L159.33,1175.94 L159.34,1175.54 L159.35,1175.14 L159.36,1174.74 L159.37,1174.33 L159.38,1173.93 L159.39,1173.53 L159.40,1173.13 L159.41,1172.73 L159.42,1172.32 L159.43,1171.92 L159.44,1171.52 L159.46,1171.12 L159.47,1170.72 L159.48,1170.31 L159.49,1169.91 L159.51,1169.51 L159.52,1169.11 L159.54,1168.71 L159.55,1168.30 L159.57,1167.90 L159.59,1167.50 L159.60,1167.10 L159.62,1166.70 L159.64,1166.30 L159.66,1165.90 L159.68,1165.50 L159.70,1165.10 L159.72,1164.70 L159.74,1164.30 L159.76,1163.90 L159.79,1163.49 L159.82,1163.09 L159.85,1162.69 L159.89,1162.29 L159.93,1161.89 L159.97,1161.49 L160.01,1161.09 L160.05,1160.69 L160.09,1160.29 L160.14,1159.89 L160.19,1159.49 L160.24,1159.09 L160.29,1158.69 L160.34,1158.29 L160.40,1157.89 L160.45,1157.49 L160.51,1157.09 L160.57,1156.69 L160.62,1156.29 L160.68,1155.90 L160.75,1155.50 L160.81,1155.10 L160.87,1154.70 L160.93,1154.31 L161.00,1153.91 L161.06,1153.52 L161.13,1153.12 L161.20,1152.73 L161.26,1152.33 L161.33,1151.94 L161.41,1151.55 L161.48,1151.15 L161.56,1150.76 L161.65,1150.36 L161.73,1149.97 L161.82,1149.58 L161.91,1149.18 L162.00,1148.79 L162.10,1148.39 L162.19,1148.00 L162.30,1147.61 L162.40,1147.22 L162.50,1146.83 L162.61,1146.44 L162.72,1146.05 L162.83,1145.66 L162.94,1145.27 L163.06,1144.88 L163.18,1144.50 L163.30,1144.11 L163.42,1143.73 L163.54,1143.35 L163.66,1142.97 L163.79,1142.59 L163.92,1142.21 L164.05,1141.83 L164.18,1141.46 L164.31,1141.09 L164.45,1140.71 L164.59,1140.34 L164.74,1139.97 L164.89,1139.60 L165.05,1139.23 L165.21,1138.86 L165.38,1138.49 L165.55,1138.12 L165.72,1137.76 L165.89,1137.39 L166.07,1137.03 L166.26,1136.67 L166.44,1136.30 L166.63,1135.94 L166.82,1135.59 L167.01,1135.23 L167.21,1134.87 L167.41,1134.52 L167.61,1134.17 L167.81,1133.82 L168.01,1133.47 L168.21,1133.13 L168.42,1132.78 L168.63,1132.44 L168.84,1132.10 L169.04,1131.77 L169.26,1131.43 L169.48,1131.10 L169.70,1130.77 L169.92,1130.44 L170.15,1130.11 L170.38,1129.78 L170.62,1129.45 L170.86,1129.13 L171.10,1128.80 L171.35,1128.48 L171.59,1128.16 L171.84,1127.84 L172.10,1127.52 L172.35,1127.21 L172.61,1126.90 L172.87,1126.58 L173.13,1126.27 L173.39,1125.96 L173.65,1125.66 L173.92,1125.35 L174.18,1125.05 L174.45,1124.75 L174.72,1124.45 L174.99,1124.16 L175.26,1123.86 L175.53,1123.57 L175.80,1123.28 L176.08,1122.99 L176.35,1122.70 L176.63,1122.41 L176.91,1122.13 L177.20,1121.85 L177.48,1121.56 L177.77,1121.28 L178.06,1121.00 L178.35,1120.73 L178.64,1120.45 L178.94,1120.17 L179.24,1119.90 L179.53,1119.63 L179.83,1119.36 L180.13,1119.09 L180.44,1118.82 L180.74,1118.55 L181.05,1118.29 L181.35,1118.02 L181.66,1117.76 L181.97,1117.50 L182.28,1117.24 L182.59,1116.98 L182.90,1116.72 L183.21,1116.47 L183.52,1116.21 L183.83,1115.96 L184.14,1115.71 L184.45,1115.45 L184.77,1115.21 L185.08,1114.96 L185.40,1114.71 L185.71,1114.46 L186.03,1114.22 L186.35,1113.98 L186.66,1113.73 L186.98,1113.49 L187.31,1113.25 L187.63,1113.01 L187.95,1112.77 L188.28,1112.54 L188.60,1112.30 L188.93,1112.07 L189.26,1111.84 L189.59,1111.61 L189.92,1111.38 L190.25,1111.15 L190.58,1110.92 L190.91,1110.69 L191.25,1110.47 L191.58,1110.24 L191.92,1110.02 L192.26,1109.80 L192.59,1109.58 L192.93,1109.36 L193.27,1109.14 L193.61,1108.93 L193.96,1108.71 L194.30,1108.50 L194.46,1107.98 L194.89,1107.72 L195.33,1107.46 L195.76,1107.20 L196.20,1106.94 L196.63,1106.68 L197.07,1106.42 L197.50,1106.16 L197.94,1105.90 L198.38,1105.64 L198.81,1105.38 L199.25,1105.13 L199.68,1104.87 L200.12,1104.62 L200.56,1104.36 L201.00,1104.11 L201.43,1103.86 L201.87,1103.61 L202.31,1103.36 L202.75,1103.10 L203.19,1102.85 L203.63,1102.60 L204.07,1102.36 L204.51,1102.11 L204.95,1101.86 L205.39,1101.61 L205.83,1101.37 L206.27,1101.12 L206.71,1100.88 L207.15,1100.63 L207.59,1100.39 L208.03,1100.15 L208.48,1099.91 L208.92,1099.66 L209.36,1099.42 L209.80,1099.18 L210.25,1098.94 L210.69,1098.71 L211.13,1098.47 L211.58,1098.23 L212.02,1097.99 L212.46,1097.76 L212.91,1097.52 L213.35,1097.29 L213.80,1097.05 L214.24,1096.82 L214.69,1096.59 L215.13,1096.35 L215.58,1096.12 L216.03,1095.89 L216.47,1095.66 L216.92,1095.43 L217.37,1095.20 L217.81,1094.97 L218.26,1094.75 L218.71,1094.52 L219.16,1094.29 L219.60,1094.07 L220.05,1093.84 L220.50,1093.62 L220.95,1093.39 L221.40,1093.17 L221.85,1092.94 L222.30,1092.72 L222.75,1092.50 L223.20,1092.28 L223.65,1092.06 L224.10,1091.84 L224.55,1091.62 L225.00,1091.40 L225.45,1091.18 L225.90,1090.97 L226.35,1090.75 L226.80,1090.53 L227.26,1090.32 L227.71,1090.10 L228.16,1089.89 L228.61,1089.67 L229.07,1089.46 L229.52,1089.25 L229.97,1089.04 L230.43,1088.82 L230.88,1088.61 L231.33,1088.40 L231.79,1088.19 L232.24,1087.98 L232.70,1087.78 L233.15,1087.57 L233.61,1087.36 L234.06,1087.15 L234.52,1086.95 L234.97,1086.74 L235.43,1086.54 L235.89,1086.33 L236.34,1086.13 L236.80,1085.93 L237.26,1085.72 L237.71,1085.52 L238.17,1085.32 L238.63,1085.12 L239.09,1084.92 L239.54,1084.72 L240.00,1084.52 L240.46,1084.32 L240.92,1084.12 L241.38,1083.92 L241.84,1083.73 L242.30,1083.53 L242.75,1083.33 L243.21,1083.14 L243.67,1082.94 L244.13,1082.75 L244.59,1082.56 L245.05,1082.36 L245.52,1082.17 L245.98,1081.98 L246.44,1081.79 L246.90,1081.59 L247.36,1081.40 L247.82,1081.21 L248.28,1081.02 L248.74,1080.84 L249.21,1080.65 L249.67,1080.46 L250.13,1080.27 L250.59,1080.09 L251.06,1079.90 L251.52,1079.71 L251.98,1079.53 L252.45,1079.34 L252.91,1079.16 L253.38,1078.98 L253.84,1078.79 L254.30,1078.61 L254.77,1078.43 L255.23,1078.25 L255.70,1078.07 L256.16,1077.88 L256.63,1077.70 L257.09,1077.53 L257.56,1077.35 L258.03,1077.17 L258.49,1076.99 L258.96,1076.81 L259.42,1076.64 L259.89,1076.46 L260.36,1076.28 L260.82,1076.11 L261.29,1075.93 L261.76,1075.76 L262.23,1075.58 L262.69,1075.41 L263.16,1075.24 L263.63,1075.07 L264.10,1074.89 L264.57,1074.72 L265.04,1074.55 L265.50,1074.38 L265.97,1074.21 L266.44,1074.04 L266.91,1073.87 L267.38,1073.70 L267.85,1073.54 L268.32,1073.37 L268.79,1073.20 L269.26,1073.03 L269.73,1072.87 L270.20,1072.70 L270.67,1072.54 L271.14,1072.37 L271.61,1072.21 L272.09,1072.04 L272.56,1071.88 L273.03,1071.72 L273.50,1071.56 L273.97,1071.39 L274.44,1071.23 L274.92,1071.07 L275.39,1070.91 L275.86,1070.75 L276.33,1070.59 L276.81,1070.43 L277.28,1070.27 L277.75,1070.12 L278.23,1069.96 L278.70,1069.80 L279.17,1069.64 L279.65,1069.49 L280.12,1069.33 L280.60,1069.18 L281.07,1069.02 L281.54,1068.87 L282.02,1068.71 L282.49,1068.56 L282.97,1068.40 L283.44,1068.25 L283.92,1068.10 L284.39,1067.95 L284.87,1067.80 L285.35,1067.64 L285.82,1067.49 L286.30,1067.34 L286.77,1067.19 L287.25,1067.04 L287.73,1066.90 L288.20,1066.75 L288.68,1066.60 L289.16,1066.45 L289.63,1066.30 L290.11,1066.16 L290.59,1066.01 L291.07,1065.86 L291.54,1065.72 L292.02,1065.57 L292.50,1065.43 L292.98,1065.28 L293.46,1065.14 L293.93,1065.00 L294.41,1064.85 L294.89,1064.71 L295.37,1064.57 L295.85,1064.43 L296.33,1064.28 L296.81,1064.14 L297.29,1064.00 L297.77,1063.86 L298.25,1063.72 L298.72,1063.58 L299.20,1063.44 L299.68,1063.30 L300.17,1063.17 L300.65,1063.03 L301.13,1062.89 L301.61,1062.75 L302.09,1062.62 L302.57,1062.48 L303.05,1062.34 L303.53,1062.21 L304.01,1062.07 L304.49,1061.94 L304.97,1061.80 L305.46,1061.67 L305.94,1061.53 L306.42,1061.40 L306.90,1061.27 L307.38,1061.13 L307.87,1061.00 L308.35,1060.87 L308.83,1060.74 L309.31,1060.61 L309.80,1060.48 L310.28,1060.35 L310.76,1060.22 L311.24,1060.09 L311.73,1059.96 L312.21,1059.83 L312.69,1059.70 L313.18,1059.57 L313.66,1059.44 L314.15,1059.31 L314.63,1059.19 L315.11,1059.06 L315.60,1058.93 L316.08,1058.81 L316.57,1058.68 L317.05,1058.56 L317.54,1058.43 L318.02,1058.31 L318.51,1058.18 L318.99,1058.06 L319.48,1057.93 L319.96,1057.81 L320.45,1057.69 L320.93,1057.56 L321.42,1057.44 L321.90,1057.32 L322.39,1057.20 L322.87,1057.07 L323.36,1056.95 L323.85,1056.83 L324.33,1056.71 L324.82,1056.59 L325.30,1056.47 L325.79,1056.35 L326.28,1056.23 L326.76,1056.11 L327.25,1055.99 L327.74,1055.88 L328.22,1055.76 L328.71,1055.64 L329.20,1055.52 L329.69,1055.40 L330.17,1055.29 L330.66,1055.17 L331.15,1055.05 L331.64,1054.94 L332.12,1054.82 L332.61,1054.71 L333.10,1054.59 L333.59,1054.48 L334.08,1054.36 L334.56,1054.25 L335.05,1054.14 L335.54,1054.02 L336.03,1053.91 L336.52,1053.80 L337.01,1053.68 L337.50,1053.57 L337.98,1053.46 L338.47,1053.35 L338.96,1053.23 L339.45,1053.12 L339.94,1053.01 L340.43,1052.90 L340.92,1052.79 L341.41,1052.68 L341.90,1052.57 L342.39,1052.46 L342.88,1052.35 L343.37,1052.24 L343.86,1052.13 L344.35,1052.02 L344.84,1051.92 L345.33,1051.81 L345.82,1051.70 L346.31,1051.59 L346.80,1051.49 L347.29,1051.38 L347.78,1051.27 L348.27,1051.17 L348.76,1051.06 L349.25,1050.95 L349.74,1050.85 L350.23,1050.74 L350.72,1050.64 L351.22,1050.53 L351.71,1050.43 L352.20,1050.32 L352.69,1050.22 L353.18,1050.11 L353.67,1050.01 L354.16,1049.91 L354.65,1049.80 L355.15,1049.70 L355.64,1049.60 L356.13,1049.50 L356.62,1049.39 L357.11,1049.29 L357.61,1049.19 L358.10,1049.09 L358.59,1048.99 L359.08,1048.88 L359.57,1048.78 L360.07,1048.68 L360.56,1048.58 L361.05,1048.48 L361.54,1048.38 L362.04,1048.28 L362.53,1048.18 L363.02,1048.08 L363.51,1047.98 L364.01,1047.88 L364.50,1047.79 L364.99,1047.69 L365.48,1047.59 L365.98,1047.49 L366.47,1047.39 L366.96,1047.30 L367.46,1047.20 L367.95,1047.10 L368.44,1047.00 L368.94,1046.91 L369.43,1046.81 L369.92,1046.71 L370.42,1046.62 L370.91,1046.52 L371.40,1046.42 L371.90,1046.33 L372.39,1046.23 L372.88,1046.14 L373.38,1046.04 L373.87,1045.95 L374.37,1045.85 L374.86,1045.76 L375.35,1045.66 L375.85,1045.57 L376.34,1045.47 L376.83,1045.38 L377.33,1045.29 L377.82,1045.19 L378.32,1045.10 L378.81,1045.01 L379.31,1044.91 L379.80,1044.82 L380.29,1044.73 L380.79,1044.64 L381.28,1044.54 L381.78,1044.45 L382.27,1044.36 L382.77,1044.27 L383.26,1044.18 L383.75,1044.08 L384.25,1043.99 L384.74,1043.90 L385.24,1043.81 L385.73,1043.72 L386.23,1043.63 L386.72,1043.54 L387.22,1043.45 L387.71,1043.36 L388.21,1043.27 L388.70,1043.18 L389.20,1043.09 L389.69,1043.00 L390.19,1042.91 L390.68,1042.82 L391.18,1042.73 L391.67,1042.64 L392.17,1042.55 L392.66,1042.46 L393.16,1042.37 L393.65,1042.28 L394.15,1042.19 L394.64,1042.11 L395.14,1042.02 L395.63,1041.93 L396.13,1041.84 L396.62,1041.75 L397.12,1041.67 L397.61,1041.58 L398.11,1041.49 L398.60,1041.40 L399.10,1041.32 L399.59,1041.23 L400.09,1041.14 L400.59,1041.05 L401.08,1040.97 L401.58,1040.88 L402.07,1040.79 L402.57,1040.71 L403.06,1040.62 L403.56,1040.53 L404.05,1040.45 L404.55,1040.36 L405.04,1040.28 L405.54,1040.19 L406.03,1040.10 L406.53,1040.02 L407.03,1039.93 L407.52,1039.85 L408.02,1039.76 L408.51,1039.68 L409.01,1039.59 L409.50,1039.51 L410.00,1039.42 L410.49,1039.34 L410.99,1039.25 L411.48,1039.17 L411.98,1039.08 L412.48,1039.00 L412.97,1038.91 L413.47,1038.83 L413.96,1038.74 L414.46,1038.66 L414.95,1038.57 L415.45,1038.49 L415.94,1038.41 L416.44,1038.32 L416.94,1038.24 L417.43,1038.15 L417.93,1038.07 L418.42,1037.99 L418.92,1037.90 L419.41,1037.82 L419.91,1037.74 L420.40,1037.65 L420.90,1037.57 L421.39,1037.49 L421.89,1037.40 L422.38,1037.32 L422.88,1037.24 L423.38,1037.15 L423.87,1037.07 L424.37,1036.99 L424.86,1036.90 L425.36,1036.82 L425.85,1036.74 L426.35,1036.65 L426.84,1036.57 L427.34,1036.49 L427.83,1036.40 L428.33,1036.32 L428.82,1036.24 L429.32,1036.16 L429.81,1036.07 L430.31,1035.99 L430.80,1035.91 L431.30,1035.83 L431.79,1035.74 L432.29,1035.66 L432.78,1035.58 L433.28,1035.50 L433.77,1035.41 L434.27,1035.33 L434.76,1035.25 L435.26,1035.17 L435.75,1035.08 L436.25,1035.00 L436.74,1034.92 L437.24,1034.84 L437.73,1034.75 L438.23,1034.67 L438.72,1034.59 L439.22,1034.51 L439.71,1034.42 L440.20,1034.34 L440.70,1034.26 L441.19,1034.18 L441.69,1034.10 L442.18,1034.01 L442.68,1033.93 L443.17,1033.85 L443.66,1033.77 L444.16,1033.68 L444.65,1033.60 L445.15,1033.52 L445.64,1033.44 L446.14,1033.35 L446.63,1033.27 L447.12,1033.19 L447.62,1033.11 L448.11,1033.03 L448.61,1032.94 L449.10,1032.86 L449.59,1032.78 L450.09,1032.70 L450.58,1032.61 L451.07,1032.53 L451.57,1032.45 L452.06,1032.37 L452.55,1032.28 L453.05,1032.20 L453.54,1032.12 L454.03,1032.03 L454.53,1031.95 L455.02,1031.87 L455.51,1031.79 L456.01,1031.70 L456.50,1031.62 L456.99,1031.54 L457.49,1031.45 L457.98,1031.37 L458.47,1031.29 L458.97,1031.21 L459.46,1031.12 L459.95,1031.04 L460.44,1030.96 L460.94,1030.87 L461.43,1030.79 L461.92,1030.71 L462.41,1030.62 L462.91,1030.54 L463.40,1030.46 L463.89,1030.37 L464.38,1030.29 L464.87,1030.20 L465.37,1030.12 L465.86,1030.04 L466.35,1029.95 L466.84,1029.87 L467.33,1029.78 L467.83,1029.70 L468.32,1029.62 L468.81,1029.53 L469.30,1029.45 L469.79,1029.36 L470.28,1029.28 L470.77,1029.19 L471.27,1029.11 L471.76,1029.02 L472.25,1028.94 L472.74,1028.85 L473.23,1028.77 L473.72,1028.68 L474.21,1028.60 L474.70,1028.51 L475.19,1028.43 L475.68,1028.34 L476.17,1028.26 L476.66,1028.17 L477.15,1028.09 L477.65,1028.00 L478.14,1027.91 L478.63,1027.83 L479.12,1027.74 L479.61,1027.66 L480.10,1027.57 L480.59,1027.48 L481.07,1027.40 L481.56,1027.31 L482.05,1027.22 L482.54,1027.14 L483.03,1027.05 L483.52,1026.96 L484.01,1026.87 L484.50,1026.79 L484.99,1026.70 L485.48,1026.61 L485.97,1026.52 L486.46,1026.44 L486.94,1026.35 L487.43,1026.26 L487.92,1026.17 L488.41,1026.08 L488.90,1026.00 L489.39,1025.91 L489.87,1025.82 L490.36,1025.73 L490.85,1025.64 L491.34,1025.55 L491.83,1025.46 L492.31,1025.37 L492.80,1025.28 L493.29,1025.19 L493.78,1025.10 L494.26,1025.01 L494.75,1024.92 L495.24,1024.83 L495.72,1024.74 L496.21,1024.65 L496.70,1024.56 L497.18,1024.47 L497.67,1024.38 L498.16,1024.29 L498.64,1024.20 L499.13,1024.11 L499.62,1024.01 L500.10,1023.92 L500.59,1023.83 L501.30,1024.10 L510.70,1049.30 L511.27,1049.07 L511.44,1048.60 L511.62,1048.13 L511.80,1047.66 L511.98,1047.18 L512.16,1046.71 L512.34,1046.24 L512.53,1045.77 L512.71,1045.30 L512.89,1044.83 L513.08,1044.36 L513.26,1043.89 L513.45,1043.42 L513.63,1042.96 L513.82,1042.49 L514.01,1042.02 L514.20,1041.55 L514.39,1041.09 L514.58,1040.62 L514.77,1040.15 L514.96,1039.69 L515.16,1039.22 L515.35,1038.76 L515.54,1038.29 L515.74,1037.83 L515.93,1037.36 L516.13,1036.90 L516.33,1036.44 L516.53,1035.98 L516.73,1035.51 L516.92,1035.05 L517.13,1034.59 L517.33,1034.13 L517.53,1033.67 L517.73,1033.21 L517.93,1032.75 L518.14,1032.29 L518.34,1031.83 L518.55,1031.37 L518.75,1030.91 L518.96,1030.45 L519.17,1029.99 L519.38,1029.54 L519.58,1029.08 L519.79,1028.62 L520.00,1028.17 L520.22,1027.71 L520.43,1027.25 L520.64,1026.80 L520.85,1026.34 L521.07,1025.89 L521.28,1025.44 L521.50,1024.98 L521.71,1024.53 L521.93,1024.08 L522.15,1023.62 L522.37,1023.17 L522.59,1022.72 L522.80,1022.27 L523.03,1021.82 L523.25,1021.37 L523.47,1020.92 L523.69,1020.47 L523.91,1020.02 L524.14,1019.57 L524.36,1019.12 L524.59,1018.67 L524.81,1018.22 L525.04,1017.78 L525.27,1017.33 L525.50,1016.88 L525.73,1016.44 L525.95,1015.99 L526.18,1015.54 L526.42,1015.10 L526.65,1014.65 L526.88,1014.21 L527.11,1013.77 L527.35,1013.32 L527.58,1012.88 L527.82,1012.44 L528.05,1011.99 L528.29,1011.55 L528.53,1011.11 L528.76,1010.67 L529.00,1010.23 L529.24,1009.79 L529.48,1009.35 L529.72,1008.91 L529.96,1008.47 L530.20,1008.03 L530.45,1007.59 L530.69,1007.15 L530.93,1006.72 L531.18,1006.28 L531.42,1005.84 L531.67,1005.41 L531.92,1004.97 L532.16,1004.53 L532.41,1004.10 L532.66,1003.66 L532.91,1003.23 L533.16,1002.80 L533.41,1002.36 L533.66,1001.93 L533.91,1001.50 L534.17,1001.06 L534.42,1000.63 L534.67,1000.20 L534.93,999.77 L535.18,999.34 L535.44,998.91 L535.70,998.48 L535.95,998.05 L536.21,997.62 L536.47,997.19 L536.73,996.76 L536.99,996.33 L537.25,995.91 L537.51,995.48 L537.77,995.05 L538.03,994.63 L538.30,994.20 L538.56,993.78 L538.82,993.35 L539.09,992.93 L539.36,992.50 L539.62,992.08 L539.89,991.66 L540.16,991.23 L540.42,990.81 L540.69,990.39 L540.96,989.97 L541.23,989.54 L541.50,989.12 L541.78,988.70 L542.05,988.28 L542.32,987.86 L542.59,987.44 L542.87,987.03 L543.14,986.61 L543.42,986.19 L543.69,985.77 L543.97,985.36 L544.25,984.94 L544.52,984.52 L544.80,984.11 L545.08,983.69 L545.36,983.28 L545.64,982.86 L545.92,982.45 L546.20,982.03 L546.49,981.62 L546.77,981.21 L547.05,980.80 L547.34,980.38 L547.62,979.97 L547.90,979.56 L548.19,979.15 L548.48,978.74 L548.76,978.33 L549.05,977.92 L549.34,977.51 L549.63,977.10 L549.92,976.70 L550.21,976.29 L550.50,975.88 L550.79,975.47 L551.08,975.07 L551.37,974.66 L551.67,974.26 L551.96,973.85 L552.25,973.45 L552.55,973.04 L552.84,972.64 L553.14,972.23 L553.44,971.83 L553.73,971.43 L554.03,971.03 L554.33,970.63 L554.63,970.22 L554.93,969.82 L555.23,969.42 L555.53,969.02 L555.83,968.62 L556.13,968.23 L556.44,967.83 L556.74,967.43 L557.04,967.03 L557.35,966.63 L557.65,966.24 L557.96,965.84 L558.26,965.44 L558.57,965.05 L558.88,964.65 L559.18,964.26 L559.49,963.87 L559.80,963.47 L560.11,963.08 L560.42,962.69 L560.73,962.29 L561.04,961.90 L561.35,961.51 L561.67,961.12 L561.98,960.73 L562.29,960.34 L562.61,959.95 L562.92,959.56 L563.23,959.17 L563.55,958.78 L563.87,958.40 L564.18,958.01 L564.50,957.62 L564.82,957.23 L565.14,956.85 L565.46,956.46 L565.78,956.08 L566.10,955.69 L566.42,955.31 L566.74,954.92 L567.06,954.54 L567.38,954.16 L567.70,953.78 L568.03,953.39 L568.35,953.01 L568.68,952.63 L569.00,952.25 L569.33,951.87 L569.65,951.49 L569.98,951.11 L570.31,950.73 L570.63,950.36 L570.96,949.98 L571.29,949.60 L571.62,949.22 L571.95,948.85 L572.28,948.47 L572.61,948.09 L572.94,947.72 L573.28,947.35 L573.61,946.97 L573.94,946.60 L574.28,946.22 L574.61,945.85 L574.94,945.48 L575.28,945.11 L575.61,944.74 L575.95,944.36 L576.29,943.99 L576.63,943.62 L576.96,943.25 L577.30,942.89 L577.64,942.52 L577.98,942.15 L578.32,941.78 L578.66,941.41 L579.00,941.05 L579.34,940.68 L579.68,940.32 L580.03,939.95 L580.37,939.59 L580.71,939.22 L581.06,938.86 L581.40,938.49 L581.75,938.13 L582.09,937.77 L582.44,937.41 L582.79,937.05 L583.13,936.68 L583.48,936.32 L583.83,935.96 L584.18,935.60 L584.53,935.24 L584.87,934.89 L585.23,934.53 L585.58,934.17 L585.93,933.81 L586.28,933.46 L586.63,933.10 L586.98,932.74 L587.34,932.39 L587.69,932.03 L588.04,931.68 L588.40,931.33 L588.75,930.97 L589.11,930.62 L589.46,930.27 L589.82,929.91 L590.18,929.56 L590.54,929.21 L590.89,928.86 L591.25,928.51 L591.61,928.16 L591.97,927.81 L592.33,927.46 L592.69,927.12 L593.05,926.77 L593.41,926.42 L593.77,926.08 L594.14,925.73 L594.50,925.38 L594.86,925.04 L595.23,924.69 L595.59,924.35 L595.95,924.01 L596.32,923.66 L596.68,923.32 L597.05,922.98 L597.42,922.64 L597.78,922.29 L598.15,921.95 L598.52,921.61 L598.89,921.27 L599.26,920.93 L599.62,920.60 L599.99,920.26 L600.36,919.92 L600.74,919.58 L601.11,919.25 L601.48,918.91 L601.85,918.57 L602.22,918.24 L602.59,917.90 L602.97,917.57 L603.34,917.24 L603.72,916.90 L604.09,916.57 L604.47,916.24 L604.84,915.90 L605.22,915.57 L605.59,915.24 L605.97,914.91 L606.35,914.58 L606.72,914.25 L607.10,913.92 L607.48,913.59 L607.86,913.26 L608.24,912.94 L608.62,912.61 L609.00,912.28 L609.38,911.96 L609.76,911.63 L610.14,911.30 L610.52,910.98 L610.90,910.65 L611.29,910.33 L611.67,910.01 L612.05,909.68 L612.43,909.36 L612.82,909.04 L613.20,908.71 L613.59,908.39 L613.97,908.07 L614.36,907.75 L614.74,907.43 L615.13,907.11 L615.51,906.79 L615.90,906.47 L616.29,906.15 L616.68,905.83 L617.06,905.51 L617.45,905.20 L617.84,904.88 L618.23,904.56 L618.62,904.25 L619.01,903.93 L619.40,903.61 L619.79,903.30 L620.18,902.98 L620.57,902.67 L620.96,902.35 L621.35,902.04 L621.74,901.73 L622.13,901.41 L622.53,901.10 L622.92,900.79 L623.31,900.48 L623.71,900.17 L624.10,899.85 L624.49,899.54 L624.89,899.23 L625.28,898.92 L625.68,898.61 L626.07,898.30 L626.47,897.99 L626.86,897.69 L627.26,897.38 L627.65,897.07 L628.05,896.76 L628.45,896.45 L628.84,896.15 L629.24,895.84 L629.64,895.53 L630.04,895.23 L630.44,894.92 L630.83,894.62 L631.23,894.31 L631.63,894.01 L632.03,893.70 L632.43,893.40 L632.83,893.09 L633.23,892.79 L633.63,892.49 L634.03,892.18 L634.43,891.88 L634.83,891.58 L635.23,891.28 L635.63,890.98 L636.03,890.67 L636.44,890.37 L636.84,890.07 L637.24,889.77 L637.64,889.47 L638.04,889.17 L638.45,888.87 L638.85,888.57 L639.25,888.27 L639.66,887.98 L640.06,887.68 L640.46,887.38 L640.87,887.08 L641.27,886.78 L641.68,886.49 L642.08,886.19 L642.49,885.89 L642.89,885.60 L643.30,885.30 L643.70,885.00 L644.11,884.71 L644.51,884.41 L644.92,884.12 L645.32,883.82 L645.73,883.53 L646.14,883.23 L646.54,882.94 L646.95,882.65 L647.36,882.35 L647.76,882.06 L648.17,881.76 L648.58,881.47 L648.98,881.18 L649.39,880.89 L649.80,880.59 L650.21,880.30 L650.62,880.01 L651.02,879.72 L651.43,879.43 L651.84,879.14 L652.25,878.84 L652.66,878.55 L653.07,878.26 L653.47,877.97 L653.88,877.68 L654.29,877.39 L654.70,877.10 L655.11,876.81 L655.52,876.52 L655.93,876.23 L656.34,875.95 L656.75,875.66 L657.16,875.37 L657.57,875.08 L657.98,874.79 L658.39,874.50 L658.80,874.22 L659.21,873.93 L659.62,873.64 L660.03,873.35 L660.44,873.07 L660.85,872.78 L661.26,872.49 L661.67,872.21 L662.08,871.92 L662.49,871.63 L662.90,871.35 L663.31,871.06 L663.73,870.78 L664.14,870.49 L664.55,870.20 L664.96,869.92 L665.37,869.63 L665.78,869.35 L666.19,869.06 L666.60,868.78 L667.01,868.50 L667.43,868.21 L667.84,867.93 L668.25,867.64 L668.66,867.36 L669.07,867.07 L669.48,866.79 L669.89,866.51 L670.31,866.22 L670.72,865.94 L671.13,865.66 L671.54,865.37 L671.95,865.09 L672.36,864.81 L672.78,864.52 L673.19,864.24 L673.60,863.96 L674.01,863.68 L674.42,863.39 L674.83,863.11 L675.25,862.83 L675.66,862.55 L676.07,862.27 L676.48,861.98 L676.89,861.70 L677.30,861.42 L677.71,861.14 L678.13,860.86 L678.54,860.58 L678.95,860.29 L679.36,860.01 L679.77,859.73 L680.18,859.45 L680.59,859.17 L681.00,858.89 L681.41,858.61 L681.83,858.33 L682.24,858.05 L682.65,857.77 L683.06,857.48 L683.47,857.20 L683.88,856.92 L684.29,856.64 L684.70,856.36 L685.11,856.08 L685.52,855.80 L685.93,855.52 L686.34,855.24 L686.75,854.96 L687.16,854.68 L687.57,854.40 L687.98,854.12 L688.39,853.84 L688.80,853.56 L689.21,853.28 L689.62,853.00 L690.03,852.72 L690.00,851.80 L690.52,851.72 L691.04,851.65 L691.56,851.61 L692.08,851.57 L692.59,851.56 L693.11,851.55 L693.63,851.57 L694.14,851.59 L694.66,851.63 L695.17,851.68 L695.68,851.74 L696.20,851.81 L696.71,851.90 L697.22,851.99 L697.73,852.09 L698.23,852.21 L698.74,852.33 L699.25,852.46 L699.75,852.60 L700.25,852.74 L700.76,852.89 L701.26,853.05 L701.76,853.21 L702.25,853.38 L702.75,853.55 L703.24,853.72 L703.74,853.90 L704.23,854.08 L704.72,854.27 L705.20,854.45 L705.69,854.64 L706.17,854.82 L706.65,855.01 L707.13,855.20 L707.61,855.38 L708.09,855.56 L708.56,855.75 L709.03,855.92 L709.50,856.10 L709.91,855.77 L710.19,855.35 L710.46,854.92 L710.74,854.50 L711.01,854.08 L711.29,853.66 L711.56,853.24 L711.84,852.82 L712.11,852.40 L712.39,851.98 L712.66,851.56 L712.94,851.13 L713.22,850.71 L713.49,850.29 L713.77,849.87 L714.05,849.45 L714.32,849.03 L714.60,848.61 L714.88,848.20 L715.16,847.78 L715.43,847.36 L715.71,846.94 L715.99,846.52 L716.27,846.10 L716.55,845.68 L716.83,845.26 L717.11,844.84 L717.39,844.43 L717.67,844.01 L717.95,843.59 L718.23,843.17 L718.51,842.76 L718.80,842.34 L719.08,841.92 L719.36,841.50 L719.64,841.09 L719.92,840.67 L720.21,840.25 L720.49,839.84 L720.77,839.42 L721.06,839.01 L721.34,838.59 L721.62,838.17 L721.91,837.76 L722.19,837.34 L722.48,836.93 L722.76,836.51 L723.05,836.10 L723.34,835.68 L723.62,835.27 L723.91,834.85 L724.19,834.44 L724.48,834.03 L724.77,833.61 L725.06,833.20 L725.34,832.79 L725.63,832.37 L725.92,831.96 L726.21,831.55 L726.50,831.14 L726.79,830.72 L727.08,830.31 L727.37,829.90 L727.66,829.49 L727.95,829.08 L728.24,828.67 L728.53,828.25 L728.82,827.84 L729.11,827.43 L729.40,827.02 L729.70,826.61 L729.99,826.20 L730.28,825.79 L730.57,825.38 L730.87,824.97 L731.16,824.56 L731.45,824.16 L731.75,823.75 L732.04,823.34 L732.34,822.93 L732.63,822.52 L732.93,822.11 L733.22,821.71 L733.52,821.30 L733.82,820.89 L734.11,820.48 L734.41,820.08 L734.71,819.67 L735.01,819.27 L735.30,818.86 L735.60,818.45 L735.90,818.05 L736.20,817.64 L736.50,817.24 L736.80,816.83 L737.10,816.43 L737.40,816.02 L737.70,815.62 L738.00,815.22 L738.30,814.81 L738.60,814.41 L738.91,814.01 L739.21,813.60 L739.51,813.20 L739.81,812.80 L740.12,812.40 L740.42,811.99 L740.72,811.59 L741.03,811.19 L741.33,810.79 L741.64,810.39 L741.94,809.99 L742.25,809.59 L742.55,809.19 L742.86,808.79 L743.17,808.39 L743.47,807.99 L743.78,807.59 L744.09,807.19 L744.40,806.79 L744.71,806.40 L745.01,806.00 L745.32,805.60 L745.63,805.20 L745.94,804.81 L746.25,804.41 L746.56,804.01 L746.87,803.62 L747.18,803.22 L747.50,802.83 L747.81,802.43 L748.12,802.04 L748.43,801.64 L748.74,801.25 L749.06,800.85 L749.37,800.46 L749.69,800.06 L750.00,799.67 L750.31,799.28 L750.63,798.89 L750.94,798.49 L751.26,798.10 L751.58,797.71 L751.89,797.32 L752.21,796.93 L752.53,796.54 L752.84,796.14 L753.16,795.75 L753.48,795.36 L753.80,794.97 L754.12,794.59 L754.44,794.20 L754.76,793.81 L755.08,793.42 L755.40,793.03 L755.72,792.64 L756.04,792.26 L756.36,791.87 L756.69,791.48 L757.01,791.10 L757.33,790.71 L757.65,790.32 L757.98,789.94 L758.30,789.55 L758.63,789.17 L758.95,788.78 L759.28,788.40 L759.60,788.01 L759.93,787.63 L760.25,787.25 L760.58,786.86 L760.91,786.48 L761.23,786.10 L761.56,785.72 L761.89,785.34 L762.22,784.96 L762.55,784.57 L762.88,784.19 L763.21,783.81 L763.54,783.43 L763.87,783.05 L764.20,782.67 L764.53,782.30 L764.86,781.92 L765.20,781.54 L765.53,781.16 L765.86,780.78 L766.20,780.41 L766.53,780.03 L766.86,779.65 L767.20,779.28 L767.53,778.90 L767.87,778.53 L768.21,778.15 L768.54,777.78 L768.88,777.40 L769.22,777.03 L769.55,776.66 L769.89,776.28 L770.23,775.91 L770.57,775.54 L770.91,775.17 L771.25,774.79 L771.59,774.42 L771.93,774.05 L772.27,773.68 L772.61,773.31 L772.95,772.94 L773.30,772.57 L773.64,772.20 L773.98,771.84 L774.33,771.47 L774.67,771.10 L775.01,770.73 L775.36,770.37 L775.70,770.00 L776.05,769.63 L776.40,769.27 L776.74,768.90 L777.09,768.54 L777.44,768.17 L777.78,767.81 L778.13,767.44 L778.48,767.08 L778.83,766.72 L779.18,766.35 L779.53,765.99 L779.88,765.63 L780.23,765.27 L780.58,764.91 L780.94,764.55 L781.29,764.19 L781.64,763.83 L781.99,763.47 L782.35,763.11 L782.70,762.75 L783.06,762.39 L783.41,762.03 L783.77,761.68 L784.12,761.32 L784.48,760.96 L784.84,760.61 L785.19,760.25 L785.55,759.90 L785.91,759.54 L786.27,759.19 L786.63,758.83 L787.00,758.50" fill="none" stroke="#e3262d" stroke-width="3.0" stroke-linejoin="round" stroke-linecap="round"/><path d="M158.30,1188.00 L158.30,1187.60 L158.30,1187.20 L158.31,1186.79 L158.31,1186.39 L158.32,1185.99 L158.32,1185.59 L158.33,1185.18 L158.33,1184.78 L158.34,1184.38 L158.35,1183.98 L158.36,1183.57 L158.36,1183.17 L158.37,1182.77 L158.38,1182.37 L158.39,1181.96 L158.40,1181.56 L158.41,1181.16 L158.42,1180.76 L158.43,1180.36 L158.44,1179.95 L158.46,1179.55 L158.47,1179.15 L158.48,1178.75 L158.49,1178.35 L158.50,1177.94 L158.51,1177.54 L158.53,1177.14 L158.54,1176.74 L158.56,1176.34 L158.57,1175.93 L158.59,1175.53 L158.61,1175.13 L158.63,1174.73 L158.65,1174.32 L158.67,1173.92 L158.69,1173.52 L158.71,1173.12 L158.73,1172.72 L158.75,1172.32 L158.78,1171.91 L158.80,1171.51 L158.83,1171.11 L158.85,1170.71 L158.88,1170.31 L158.91,1169.91 L158.93,1169.51 L158.96,1169.10 L158.99,1168.70 L159.02,1168.30 L159.05,1167.90 L159.08,1167.49 L159.11,1167.09 L159.14,1166.69 L159.18,1166.28 L159.21,1165.88 L159.25,1165.47 L159.28,1165.07 L159.32,1164.66 L159.36,1164.26 L159.40,1163.86 L159.44,1163.45 L159.48,1163.05 L159.52,1162.65 L159.57,1162.24 L159.61,1161.84 L159.66,1161.44 L159.70,1161.04 L159.75,1160.64 L159.80,1160.24 L159.85,1159.84 L159.91,1159.44 L159.96,1159.04 L160.01,1158.64 L160.07,1158.25 L160.13,1157.85 L160.19,1157.46 L160.25,1157.06 L160.31,1156.67 L160.38,1156.28 L160.44,1155.89 L160.51,1155.50 L160.58,1155.11 L160.65,1154.73 L160.73,1154.34 L160.82,1153.96 L160.92,1153.57 L161.02,1153.19 L161.13,1152.81 L161.25,1152.42 L161.37,1152.04 L161.50,1151.66 L161.63,1151.28 L161.77,1150.91 L161.91,1150.53 L162.06,1150.15 L162.21,1149.77 L162.37,1149.40 L162.53,1149.02 L162.69,1148.65 L162.86,1148.28 L163.03,1147.90 L163.20,1147.53 L163.37,1147.16 L163.54,1146.79 L163.71,1146.42 L163.89,1146.05 L164.07,1145.68 L164.24,1145.32 L164.42,1144.95 L164.59,1144.59 M168.23,1137.37 L168.43,1137.02 L168.63,1136.67 L168.84,1136.32 L169.04,1135.98 L169.25,1135.63 L169.47,1135.29 M174.68,1128.71 L174.97,1128.42 L175.25,1128.13 L175.54,1127.85 L175.82,1127.56 L176.11,1127.27 L176.40,1126.99 L176.69,1126.70 L176.97,1126.42 L177.26,1126.14 L177.54,1125.86 L177.83,1125.58 L178.12,1125.30 L178.40,1125.01 L178.69,1124.73 L178.98,1124.45 L179.27,1124.18 L179.56,1123.90 L179.85,1123.62 L180.14,1123.34 L180.44,1123.06 L180.73,1122.79 L181.02,1122.51 L181.32,1122.23 L181.62,1121.96 L181.91,1121.68 L182.21,1121.41 L182.51,1121.14 L182.81,1120.87 L183.11,1120.59 M187.08,1117.16 L187.39,1116.90 L187.70,1116.65 L188.01,1116.39 L188.33,1116.14 M193.44,1112.30 L193.77,1112.07 L194.10,1111.84 L194.43,1111.61 L194.76,1111.39 L195.09,1111.16 L195.42,1110.94 L195.75,1110.71 L196.09,1110.49 L196.42,1110.27 L196.76,1110.04 L197.09,1109.82 L197.43,1109.61 L197.77,1109.39 L198.11,1109.17 L198.45,1108.96 L198.79,1108.74 L199.13,1108.53 L199.47,1108.31 L199.82,1108.10 L200.16,1107.89 L200.51,1107.68 L200.85,1107.47 L201.20,1107.27 L201.55,1107.06 L201.90,1106.86 L202.25,1106.65 M206.14,1104.49 L206.50,1104.30 L206.62,1103.98 L206.73,1103.65 L207.18,1103.42 M212.60,1100.75 L213.05,1100.54 L213.51,1100.32 L213.96,1100.10 L214.41,1099.88 L214.87,1099.67 L215.32,1099.45 L215.77,1099.24 L216.23,1099.02 L216.68,1098.81 L217.14,1098.59 L217.59,1098.38 L218.05,1098.17 L218.50,1097.96 L218.96,1097.75 L219.41,1097.54 L219.87,1097.32 L220.32,1097.12 L220.78,1096.91 L221.24,1096.70 M224.90,1095.05 L225.35,1094.85 L225.81,1094.64 M231.33,1092.25 L231.79,1092.06 L232.25,1091.86 L232.71,1091.66 L233.18,1091.47 L233.64,1091.28 L234.10,1091.08 L234.56,1090.89 L235.02,1090.70 L235.49,1090.51 L235.95,1090.31 L236.41,1090.12 L236.88,1089.93 L237.34,1089.74 L237.80,1089.55 L238.27,1089.37 L238.73,1089.18 L239.19,1088.99 L239.66,1088.80 L240.12,1088.62 M243.84,1087.14 L244.31,1086.96 L244.78,1086.78 M250.38,1084.63 L250.85,1084.45 L251.32,1084.28 L251.79,1084.10 L252.26,1083.93 L252.73,1083.76 L253.19,1083.58 L253.66,1083.41 L254.13,1083.24 L254.60,1083.07 L255.07,1082.89 L255.54,1082.72 L256.01,1082.55 L256.48,1082.38 L256.95,1082.21 L257.42,1082.04 L257.90,1081.87 L258.37,1081.71 L258.84,1081.54 M263.08,1080.05 L263.56,1079.88 L264.03,1079.72 M269.24,1077.95 L269.71,1077.80 L270.19,1077.64 L270.66,1077.48 L271.14,1077.32 L271.61,1077.17 L272.09,1077.01 L272.56,1076.86 L273.04,1076.70 L273.51,1076.55 L273.99,1076.39 L274.47,1076.24 L274.94,1076.08 L275.42,1075.93 L275.89,1075.78 L276.37,1075.62 L276.85,1075.47 L277.32,1075.32 L277.80,1075.17 M282.10,1073.83 L282.58,1073.68 L283.05,1073.53 M288.32,1071.94 L288.80,1071.79 L289.28,1071.65 L289.76,1071.51 L290.24,1071.37 L290.72,1071.23 L291.20,1071.09 L291.68,1070.94 L292.16,1070.80 L292.65,1070.66 L293.13,1070.52 L293.61,1070.39 L294.09,1070.25 L294.57,1070.11 L295.05,1069.97 L295.53,1069.83 L296.01,1069.69 L296.49,1069.56 L296.98,1069.42 M300.83,1068.34 L301.32,1068.20 L301.80,1068.07 M307.60,1066.49 L308.08,1066.36 L308.57,1066.23 L309.05,1066.10 L309.53,1065.97 L310.02,1065.84 L310.50,1065.71 L310.99,1065.59 L311.47,1065.46 L311.96,1065.33 L312.44,1065.20 L312.93,1065.08 L313.41,1064.95 L313.90,1064.83 L314.38,1064.70 L314.87,1064.57 L315.35,1064.45 L315.84,1064.32 M319.72,1063.33 L320.21,1063.21 L320.70,1063.09 L321.18,1062.97 M326.54,1061.64 L327.02,1061.52 L327.51,1061.40 L328.00,1061.28 L328.48,1061.16 L328.97,1061.05 L329.46,1060.93 L329.95,1060.81 L330.43,1060.69 L330.92,1060.58 L331.41,1060.46 L331.90,1060.34 L332.39,1060.23 L332.87,1060.11 L333.36,1059.99 L333.85,1059.88 L334.34,1059.76 L334.83,1059.65 M338.73,1058.73 L339.22,1058.62 L339.71,1058.51 M345.58,1057.17 L346.07,1057.06 L346.56,1056.95 L347.05,1056.84 L347.54,1056.73 L348.03,1056.62 L348.52,1056.51 L349.01,1056.41 L349.50,1056.30 L349.99,1056.19 L350.48,1056.08 L350.97,1055.97 L351.46,1055.87 L351.95,1055.76 L352.45,1055.65 L352.94,1055.54 L353.43,1055.44 L353.92,1055.33 M357.84,1054.48 L358.33,1054.38 L358.83,1054.27 M364.23,1053.13 L364.72,1053.03 L365.21,1052.93 L365.70,1052.83 L366.20,1052.73 L366.69,1052.62 L367.18,1052.52 L367.67,1052.42 L368.16,1052.32 L368.66,1052.22 L369.15,1052.12 L369.64,1052.02 L370.13,1051.92 L370.62,1051.82 L371.12,1051.72 L371.61,1051.62 L372.10,1051.52 L372.59,1051.42 L373.09,1051.32 M377.03,1050.53 L377.52,1050.43 L378.01,1050.33 M383.43,1049.27 L383.93,1049.17 L384.42,1049.08 L384.91,1048.98 L385.41,1048.89 L385.90,1048.79 L386.39,1048.70 L386.89,1048.60 L387.38,1048.51 L387.87,1048.41 L388.37,1048.32 L388.86,1048.22 L389.35,1048.13 L389.85,1048.04 L390.34,1047.94 L390.83,1047.85 L391.33,1047.76 L391.82,1047.66 M395.77,1046.92 L396.26,1046.83 L396.76,1046.74 M402.19,1045.73 L402.68,1045.64 L403.18,1045.55 L403.67,1045.46 L404.16,1045.37 L404.66,1045.28 L405.15,1045.19 L405.65,1045.10 L406.14,1045.01 L406.64,1044.92 L407.13,1044.83 L407.62,1044.74 L408.12,1044.65 L408.61,1044.56 L409.11,1044.47 L409.60,1044.38 L410.09,1044.30 L410.59,1044.21 L411.08,1044.12 M415.04,1043.41 L415.53,1043.33 L416.03,1043.24 M421.46,1042.28 L421.96,1042.20 L422.45,1042.11 L422.95,1042.02 L423.44,1041.94 L423.94,1041.85 L424.43,1041.77 L424.92,1041.68 L425.42,1041.59 L425.91,1041.51 L426.41,1041.42 L426.90,1041.34 L427.40,1041.25 L427.89,1041.17 L428.38,1041.08 L428.88,1041.00 L429.37,1040.91 L429.87,1040.83 M433.82,1040.15 L434.32,1040.06 L434.81,1039.98 M440.25,1039.06 L440.74,1038.97 L441.24,1038.89 L441.73,1038.81 L442.23,1038.72 L442.72,1038.64 L443.21,1038.56 L443.71,1038.47 L444.20,1038.39 L444.70,1038.31 L445.19,1038.23 L445.68,1038.14 L446.18,1038.06 L446.67,1037.98 L447.17,1037.89 L447.66,1037.81 L448.15,1037.73 L448.65,1037.65 L449.14,1037.56 M453.09,1036.90 L453.59,1036.82 L454.08,1036.74 M459.51,1035.84 L460.01,1035.76 L460.50,1035.68 L460.99,1035.59 L461.49,1035.51 L461.98,1035.43 L462.47,1035.35 L462.97,1035.27 L463.46,1035.19 L463.95,1035.10 L464.45,1035.02 L464.94,1034.94 L465.43,1034.86 L465.93,1034.78 L466.42,1034.70 L466.91,1034.62 L467.41,1034.53 L467.90,1034.45 M471.84,1033.80 L472.34,1033.72 L472.83,1033.64 M478.25,1032.75 L478.74,1032.67 L479.23,1032.58 L479.72,1032.50 L480.22,1032.42 L480.71,1032.34 L481.20,1032.26 L481.69,1032.18 L482.19,1032.10 L482.68,1032.02 L483.17,1031.93 L483.66,1031.85 L484.15,1031.77 L484.64,1031.69 L485.14,1031.61 L485.63,1031.53 L486.12,1031.45 L486.61,1031.37 L487.10,1031.28 M491.04,1030.63 L491.53,1030.55 L492.02,1030.47 M497.36,1030.45 L497.62,1030.61 L497.87,1030.76 L498.13,1030.92 L498.39,1031.07 L498.65,1031.23 L498.90,1031.38 L499.16,1031.54 L499.42,1031.69 L499.68,1031.85 L499.93,1032.00 L500.19,1032.15 L500.45,1032.31 L500.71,1032.46 L500.96,1032.62 L501.22,1032.77 L501.48,1032.93 L501.74,1033.08 L501.99,1033.24 L502.25,1033.39 L502.51,1033.55 L502.77,1033.70 L503.02,1033.85 L503.28,1034.01 L503.54,1034.16 L503.80,1034.32 L504.05,1034.47 L504.31,1034.63 L504.57,1034.78 L504.83,1034.94 L505.08,1035.09 L505.34,1035.25 L505.60,1035.40 L505.71,1035.68 L505.83,1035.96 L505.94,1036.23 L506.06,1036.51 M509.49,1044.84 L509.60,1045.11 L509.71,1045.39 L509.83,1045.67 L509.94,1045.95 L510.06,1046.22 L510.17,1046.50 L510.29,1046.78 L510.40,1047.06 L510.51,1047.33 L510.63,1047.61 L510.74,1047.89 L510.86,1048.17 M515.85,1037.90 L516.06,1037.45 L516.27,1036.99 L516.48,1036.53 L516.69,1036.08 L516.91,1035.62 L517.12,1035.16 L517.33,1034.71 L517.55,1034.25 L517.76,1033.80 L517.98,1033.35 L518.20,1032.89 L518.41,1032.44 L518.63,1031.99 L518.85,1031.53 L519.07,1031.08 L519.29,1030.63 L519.51,1030.18 L519.73,1029.73 L519.96,1029.28 L520.18,1028.83 L520.40,1028.38 L520.63,1027.93 L520.85,1027.49 L521.08,1027.04 L521.31,1026.59 L521.54,1026.14 L521.76,1025.70 L521.99,1025.25 L522.22,1024.81 L522.45,1024.36 L522.68,1023.92 L522.92,1023.47 L523.15,1023.03 L523.38,1022.59 L523.62,1022.14 L523.85,1021.70 L524.09,1021.26 L524.32,1020.82 M527.95,1014.25 L528.20,1013.81 L528.45,1013.38 L528.70,1012.95 L528.95,1012.51 L529.20,1012.08 M534.34,1003.52 L534.61,1003.10 L534.87,1002.67 L535.14,1002.25 L535.40,1001.83 L535.67,1001.41 L535.94,1000.99 L536.21,1000.56 L536.47,1000.14 L536.74,999.72 L537.01,999.30 L537.28,998.89 L537.55,998.47 L537.83,998.05 L538.10,997.63 L538.37,997.21 L538.65,996.80 L538.92,996.38 L539.20,995.96 L539.47,995.55 L539.75,995.13 L540.02,994.72 L540.30,994.30 L540.58,993.89 L540.86,993.47 L541.14,993.06 L541.42,992.65 L541.70,992.24 L541.98,991.82 L542.26,991.41 L542.54,991.00 L542.83,990.59 M546.56,985.29 L546.85,984.88 L547.15,984.48 L547.44,984.08 L547.73,983.67 M553.11,976.48 L553.41,976.08 L553.72,975.69 L554.02,975.29 L554.33,974.90 L554.63,974.50 L554.94,974.11 L555.25,973.72 L555.56,973.32 L555.87,972.93 L556.17,972.54 L556.48,972.15 L556.79,971.76 L557.10,971.37 L557.42,970.98 L557.73,970.59 L558.04,970.20 L558.35,969.81 L558.67,969.42 L558.98,969.03 L559.30,968.64 L559.61,968.26 L559.93,967.87 L560.24,967.48 L560.56,967.10 L560.88,966.71 L561.19,966.32 L561.51,965.94 L561.83,965.55 M565.37,961.35 L565.70,960.97 L566.02,960.59 L566.35,960.21 L566.67,959.83 M571.96,953.83 L572.30,953.46 L572.63,953.08 L572.97,952.71 L573.30,952.34 L573.64,951.97 L573.98,951.60 L574.32,951.23 L574.65,950.86 L574.99,950.49 L575.33,950.13 L575.67,949.76 L576.01,949.39 L576.35,949.02 L576.69,948.66 L577.03,948.29 L577.37,947.92 L577.72,947.56 L578.06,947.19 L578.40,946.83 L578.75,946.46 L579.09,946.10 L579.44,945.74 L579.78,945.37 L580.13,945.01 L580.47,944.65 M584.30,940.69 L584.66,940.33 L585.01,939.97 L585.36,939.61 M590.69,934.30 L591.05,933.95 L591.41,933.60 L591.77,933.25 L592.12,932.90 L592.48,932.55 L592.85,932.20 L593.21,931.85 L593.57,931.51 L593.93,931.16 L594.29,930.81 L594.65,930.46 L595.02,930.12 L595.38,929.77 L595.74,929.42 L596.11,929.08 L596.47,928.73 L596.84,928.39 L597.20,928.04 L597.57,927.70 L597.93,927.35 L598.30,927.01 L598.67,926.67 L599.03,926.33 L599.40,925.98 M603.10,922.58 L603.47,922.24 L603.84,921.90 L604.21,921.57 M609.84,916.55 L610.22,916.22 L610.59,915.88 L610.97,915.55 L611.35,915.22 L611.73,914.89 L612.11,914.56 L612.49,914.23 L612.87,913.90 L613.25,913.58 L613.63,913.25 L614.01,912.92 L614.39,912.59 L614.77,912.26 L615.16,911.94 L615.54,911.61 L615.92,911.28 L616.30,910.96 L616.69,910.63 L617.07,910.31 L617.45,909.98 L617.84,909.66 L618.22,909.34 M622.08,906.11 L622.47,905.79 L622.86,905.47 L623.25,905.16 M628.71,900.72 L629.11,900.41 L629.50,900.09 L629.89,899.78 L630.28,899.47 L630.68,899.15 L631.07,898.84 L631.46,898.53 L631.86,898.22 L632.25,897.91 L632.65,897.60 L633.04,897.28 L633.44,896.97 L633.83,896.66 L634.23,896.35 L634.63,896.05 L635.02,895.74 L635.42,895.43 L635.81,895.12 L636.21,894.81 L636.61,894.50 L637.01,894.20 M640.99,891.14 L641.39,890.84 L641.79,890.54 L642.19,890.24 M647.42,886.33 L647.82,886.03 L648.23,885.74 L648.63,885.44 L649.03,885.14 L649.44,884.85 L649.84,884.55 L650.25,884.25 L650.65,883.96 L651.06,883.66 L651.46,883.37 L651.87,883.07 L652.27,882.78 L652.68,882.48 L653.08,882.19 L653.49,881.90 L653.89,881.60 L654.30,881.31 L654.71,881.02 L655.11,880.73 L655.52,880.44 L655.93,880.15 M660.01,877.25 L660.42,876.96 L660.83,876.68 L661.24,876.39 M666.57,872.69 L666.98,872.41 L667.39,872.12 L667.80,871.84 L668.21,871.56 L668.63,871.28 L669.04,871.00 L669.45,870.72 L669.86,870.44 L670.27,870.16 L670.69,869.88 L671.10,869.60 L671.51,869.32 L671.92,869.04 L672.34,868.76 L672.75,868.49 L673.16,868.21 L673.58,867.93 L673.99,867.65 L674.40,867.38 L674.82,867.10 M678.96,864.36 L679.37,864.08 L679.79,863.81 M685.19,860.30 L685.60,860.03 L686.02,859.76 L686.44,859.49 L686.85,859.23 L687.27,858.96 L687.69,858.69 L688.10,858.43 L688.52,858.16 L688.76,857.98 L689.00,857.80 L689.30,857.85 L689.59,857.90 L689.89,857.95 L690.19,858.01 L690.49,858.06 L690.78,858.11 L691.08,858.16 L691.38,858.21 L691.67,858.26 L691.97,858.31 L692.27,858.37 L692.57,858.42 L692.86,858.47 L693.16,858.52 L693.46,858.57 L693.75,858.62 L694.05,858.67 M697.91,859.34 L698.21,859.39 L698.51,859.45 L698.81,859.50 L699.10,859.55 M704.41,860.90 L704.71,860.97 L705.00,861.05 L705.29,861.13 L705.59,861.20 L705.88,861.28 L706.18,861.36 L706.47,861.43 L706.77,861.51 L707.06,861.58 L707.36,861.66 L707.65,861.74 L707.95,861.81 L708.24,861.89 L708.54,861.97 L708.83,862.04 L709.13,862.12 L709.42,862.19 L709.72,862.27 L710.01,862.35 L710.31,862.42 L710.60,862.50 L711.06,862.22 L711.37,861.82 L711.68,861.42 L711.99,861.02 L712.30,860.62 L712.60,860.22 L712.91,859.82 M716.81,854.55 L717.10,854.14 L717.40,853.73 L717.69,853.32 L717.98,852.91 M723.21,845.49 L723.50,845.07 L723.79,844.66 L724.08,844.25 L724.37,843.83 L724.65,843.42 L724.94,843.00 L725.23,842.59 L725.52,842.17 L725.80,841.76 L726.09,841.35 L726.38,840.93 L726.67,840.52 L726.96,840.10 L727.24,839.69 L727.53,839.28 L727.82,838.86 L728.11,838.45 L728.40,838.04 L728.69,837.62 L728.98,837.21 L729.26,836.80 L729.55,836.39 L729.84,835.97 L730.13,835.56 L730.42,835.15 L730.72,834.74 L731.01,834.33 L731.30,833.92 L731.59,833.51 M735.43,828.21 L735.73,827.80 L736.03,827.40 L736.33,827.00 L736.63,826.59 M741.87,819.85 L742.19,819.46 L742.51,819.07 L742.83,818.68 L743.15,818.29 L743.47,817.90 L743.79,817.52 L744.11,817.13 L744.43,816.75 L744.75,816.36 L745.08,815.98 L745.40,815.59 L745.73,815.21 L746.06,814.83 L746.38,814.45 L746.71,814.07 L747.04,813.69 L747.37,813.31 L747.70,812.93 L748.03,812.55 L748.36,812.17 L748.70,811.79 L749.03,811.42 L749.36,811.04 L749.70,810.67 L750.04,810.29 L750.37,809.92 M754.47,805.48 L754.81,805.11 L755.16,804.75 L755.51,804.38 M760.78,798.96 L761.14,798.61 L761.49,798.25 L761.85,797.89 L762.21,797.54 L762.57,797.18 L762.93,796.83 L763.29,796.47 L763.65,796.12 L764.01,795.77 L764.37,795.41 L764.73,795.06 L765.09,794.71 L765.45,794.36 L765.82,794.01 L766.18,793.66 L766.54,793.31 L766.91,792.96 L767.27,792.61 L767.64,792.26 L768.00,791.91 L768.37,791.56 L768.73,791.21 L769.10,790.86 L769.47,790.52 M773.16,787.06 L773.53,786.72 L773.90,786.38 L774.27,786.03 M779.51,781.27 L779.88,780.93 L780.26,780.59 L780.63,780.25 L781.01,779.92 L781.39,779.58 L781.76,779.24 L782.14,778.90 L782.52,778.57 L782.90,778.23 L783.27,777.89 L783.65,777.56 L784.03,777.22 L784.41,776.89 L784.78,776.55 L785.16,776.22 L785.54,775.88 L785.92,775.55 L786.30,775.21 L786.68,774.88 L787.00,774.50" fill="none" stroke="#3b4ea3" stroke-width="2.9" stroke-linecap="butt"/></g><g fill="#0d0d0d"><circle cx="274.50" cy="1106.30" r="7.00"/><circle cx="386.90" cy="1047.90" r="7.00"/><circle cx="407.00" cy="1051.60" r="7.00"/><circle cx="425.60" cy="1046.00" r="7.00"/><circle cx="440.90" cy="1046.30" r="7.00"/><circle cx="458.40" cy="1035.80" r="7.00"/><circle cx="473.40" cy="1032.60" r="7.00"/><circle cx="493.30" cy="1036.80" r="7.00"/><circle cx="509.80" cy="1063.40" r="7.00"/><circle cx="526.10" cy="1037.60" r="7.00"/><circle cx="541.40" cy="1022.10" r="7.00"/><circle cx="558.90" cy="969.30" r="7.00"/><circle cx="576.60" cy="950.90" r="7.00"/><circle cx="591.70" cy="922.90" r="7.00"/><circle cx="610.40" cy="897.50" r="7.00"/><circle cx="627.90" cy="894.80" r="7.00"/><circle cx="646.60" cy="874.20" r="7.00"/><circle cx="662.90" cy="863.00" r="7.00"/><circle cx="679.00" cy="854.90" r="7.00"/><circle cx="695.90" cy="829.00" r="7.00"/><circle cx="715.40" cy="850.80" r="7.00"/><circle cx="731.90" cy="833.70" r="7.00"/><circle cx="747.10" cy="777.80" r="7.00"/><circle cx="765.70" cy="755.80" r="7.00"/><circle cx="780.80" cy="733.20" r="7.00"/></g><path d="M307.74,1188.20V1178.20M307.74,683.00V693.00M457.39,1188.20V1178.20M457.39,683.00V693.00M607.03,1188.20V1178.20M607.03,683.00V693.00M756.67,1188.20V1178.20M756.67,683.00V693.00M158.10,1087.16H168.10M786.60,1087.16H776.60M158.10,986.12H168.10M786.60,986.12H776.60M158.10,885.08H168.10M786.60,885.08H776.60M158.10,784.04H168.10M786.60,784.04H776.60" stroke="#000" stroke-width="2.4" fill="none"/><path d="M232.92,1188.20V1183.20M232.92,683.00V688.00M382.56,1188.20V1183.20M382.56,683.00V688.00M532.21,1188.20V1183.20M532.21,683.00V688.00M681.85,1188.20V1183.20M681.85,683.00V688.00M158.10,1137.68H163.10M786.60,1137.68H781.60M158.10,1036.64H163.10M786.60,1036.64H781.60M158.10,935.60H163.10M786.60,935.60H781.60M158.10,834.56H163.10M786.60,834.56H781.60M158.10,733.52H163.10M786.60,733.52H781.60" stroke="#000" stroke-width="2.0" fill="none"/><rect x="158.10" y="683.00" width="628.50" height="505.20" fill="none" stroke="#000" stroke-width="2.6"/><g font-family='"Liberation Serif", serif' font-size="36" fill="#111"><text x="160.10" y="1225.20" text-anchor="middle">0.0</text><text x="309.74" y="1225.20" text-anchor="middle">0.5</text><text x="459.39" y="1225.20" text-anchor="middle">1.0</text><text x="609.03" y="1225.20" text-anchor="middle">1.5</text><text x="758.67" y="1225.20" text-anchor="middle">2.0</text><text x="146.20" y="1197.70" text-anchor="end">0.0</text><text x="146.20" y="1096.66" text-anchor="end">0.7</text><text x="146.20" y="995.62" text-anchor="end">1.4</text><text x="146.20" y="894.58" text-anchor="end">2.1</text><text x="146.20" y="793.54" text-anchor="end">2.8</text><text x="146.20" y="692.50" text-anchor="end">3.5</text></g><path d="M192.20,723.90H262.20" stroke="#c8323a" stroke-width="2.0"/><circle cx="227.20" cy="762.70" r="7" fill="#0d0d0d"/><path d="M192.20,800.40H210.20M222.70,800.40H224.70M236.20,800.40H253.20" stroke="#3b4ea3" stroke-width="2.6"/><g font-family='"Liberation Serif", serif' font-size="32" letter-spacing="0.25" fill="#111"><text x="269.60" y="733.90">ML-KL</text><text x="269.60" y="771.90">Exp.</text><text x="269.60" y="810.70">Baseline</text></g></svg></body></html>
